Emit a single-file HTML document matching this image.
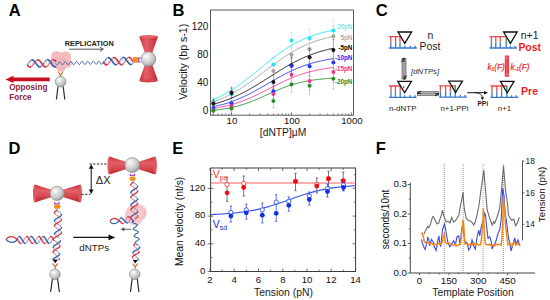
<!DOCTYPE html>
<html><head><meta charset="utf-8"><style>
html,body{margin:0;padding:0;background:#fff;width:550px;height:300px;overflow:hidden;}
svg{display:block;}
text{font-family:"Liberation Sans",sans-serif;}
</style></head><body>
<svg width="550" height="300" viewBox="0 0 550 300">
<rect width="550" height="300" fill="#fff"/>
<defs>
<radialGradient id="bead" cx="0.36" cy="0.32" r="0.75">
<stop offset="0" stop-color="#ffffff"/><stop offset="0.25" stop-color="#e6e6e6"/><stop offset="0.7" stop-color="#c4c4c4"/><stop offset="1" stop-color="#909090"/></radialGradient>
<linearGradient id="coneV" x1="0" y1="0" x2="1" y2="0">
<stop offset="0" stop-color="#c42c36"/><stop offset="0.35" stop-color="#e66068"/><stop offset="0.7" stop-color="#d4444c"/><stop offset="1" stop-color="#b8242e"/></linearGradient>
<linearGradient id="coneH" x1="0" y1="0" x2="0" y2="1">
<stop offset="0" stop-color="#c42c36"/><stop offset="0.35" stop-color="#e66068"/><stop offset="0.7" stop-color="#d4444c"/><stop offset="1" stop-color="#b8242e"/></linearGradient>
</defs>
<text x="8.7" y="16.2" font-size="16.5" font-weight="bold" fill="#000">A</text>
<text x="172.4" y="16.4" font-size="16.5" font-weight="bold" fill="#000">B</text>
<text x="375.7" y="15.9" font-size="16.5" font-weight="bold" fill="#000">C</text>
<text x="8.6" y="154.4" font-size="16.5" font-weight="bold" fill="#000">D</text>
<text x="172.3" y="154.4" font-size="16.5" font-weight="bold" fill="#000">E</text>
<text x="375.7" y="154.4" font-size="16.5" font-weight="bold" fill="#000">F</text>
<g fill="#f5bcc0"><circle cx="56.5" cy="56.5" r="5.5"/><circle cx="65.5" cy="56.8" r="5.6"/><circle cx="67.5" cy="63" r="4.6"/><circle cx="61" cy="66" r="5.6"/><circle cx="54.5" cy="63" r="4.8"/><ellipse cx="61" cy="61" rx="8" ry="7"/></g>
<path d="M60,52 C63,55 64,59 63,63 M56,61 C59,59 64,59 69,60.5 M55,66 C58,69.5 63,70 67,66" stroke="#eba2a8" stroke-width="0.7" fill="none" opacity="0.7"/>
<polyline points="55.5,63.3 55.8,63.9 56.2,64.4 56.5,64.7 56.9,64.9 57.2,64.8 57.5,64.5 57.9,64.1 58.2,63.5 58.5,62.9 58.8,62.3 59.2,61.9 59.5,61.7 59.8,61.7 60.2,61.9 60.5,62.3 60.8,62.8 61.2,63.4 61.5,63.9 61.9,64.4 62.2,64.7 62.5,64.8 62.9,64.7 63.2,64.3 63.5,63.8 63.9,63.2 64.2,62.7 64.5,62.1 64.8,61.8 65.2,61.6 65.5,61.6 65.9,61.9 66.2,62.3 66.5,62.9 66.9,63.4 67.2,64.0 67.6,64.4 67.9,64.7 68.2,64.7 68.6,64.5 68.9,64.1 69.2,63.6 69.5,63.0 69.9,62.4 70.2,61.9 70.5,61.6 70.9,61.5 71.2,61.6 71.5,61.9 71.9,62.4 72.2,62.9 72.6,63.5 72.9,64.0 73.2,64.4 73.6,64.6 73.9,64.6 74.3,64.4 74.6,63.9 74.9,63.4 75.2,62.8 75.6,62.2 75.9,61.7 76.2,61.5 76.5,61.4 76.9,61.6 77.2,61.9 77.6,62.4 77.9,63.0 78.3,63.6 78.6,64.1 78.9,64.4 79.3,64.6 79.6,64.5 79.9,64.2 80.3,63.7 80.6,63.1 80.9,62.5 81.2,62.0 81.6,61.6 81.9,61.3 82.2,61.3 82.6,61.6 82.9,61.9 83.3,62.5 83.6,63.1 83.9,63.6 84.3,64.1 84.6,64.4 85.0,64.5 85.3,64.3 85.6,64.0 85.9,63.5 86.3,62.9 86.6,62.3 86.9,61.8 87.3,61.4 87.6,61.2 87.9,61.3 88.3,61.6 88.6,62.0 88.9,62.6 89.3,63.1 89.6,63.7 90.0,64.1 90.3,64.4 90.6,64.4 91.0,64.2 91.3,63.8 91.6,63.3 92.0,62.7 92.3,62.1 92.6,61.6 92.9,61.3 93.3,61.2 93.6,61.3 93.9,61.6 94.3,62.1 94.6,62.6 95.0,63.2 95.3,63.7 95.7,64.1 96.0,64.3 96.3,64.3 96.7,64.0 97.0,63.6 97.3,63.0 97.6,62.4 98.0,61.9 98.3,61.4 98.6,61.1 99.0,61.1 99.3,61.2 99.6,61.6 100.0,62.1 100.3,62.7 100.7,63.3 101.0,63.8 101.3,64.1 101.7,64.2 102.0,64.1 102.3,63.8 102.7,63.4 103.0,62.8 103.3,62.2 103.7,61.6 104.0,61.2" fill="none" stroke="#2f5da6" stroke-width="0.95"/>
<polyline points="30.2,67.1 30.6,67.0 30.9,66.9 31.2,66.7 31.6,66.5 31.9,66.2 32.2,65.9 32.6,65.5 32.9,65.0 33.2,64.6 33.6,64.1 33.9,63.6 34.2,63.1 34.6,62.6 34.9,62.2 35.2,61.7 35.6,61.3 35.9,60.9 36.2,60.6 36.6,60.3 36.9,60.1 37.2,59.9 37.6,59.9 37.9,59.8" fill="none" stroke="#d8333c" stroke-width="1.08" stroke-linecap="round" opacity="0.85"/>
<polyline points="45.7,67.0 46.1,66.9 46.4,66.8 46.7,66.6 47.1,66.4 47.4,66.1 47.7,65.8 48.1,65.4 48.4,64.9 48.7,64.5 49.1,64.0 49.4,63.5 49.7,63.0 50.1,62.5 50.4,62.1 50.7,61.6 51.1,61.2 51.4,60.8 51.7,60.5 52.1,60.2 52.4,60.0 52.7,59.8 53.1,59.7 53.4,59.7" fill="none" stroke="#d8333c" stroke-width="1.08" stroke-linecap="round" opacity="0.85"/>
<polyline points="27.5,64.5 27.8,64.0 28.2,63.5 28.5,63.0 28.8,62.6 29.2,62.1 29.5,61.7 29.8,61.2 30.2,60.9 30.5,60.6 30.8,60.3 31.2,60.1 31.5,60.0 31.9,59.9 32.2,59.9" fill="none" stroke="#2c5fb0" stroke-width="1.08" stroke-linecap="round" opacity="0.85"/>
<polyline points="40.0,67.0 40.3,66.9 40.7,66.8 41.0,66.6 41.3,66.4 41.7,66.1 42.0,65.7 42.3,65.3 42.7,64.9 43.0,64.4 43.3,63.9 43.7,63.4 44.0,62.9 44.3,62.5 44.7,62.0 45.0,61.5 45.3,61.1 45.7,60.8 46.0,60.5 46.3,60.2 46.7,60.0 47.0,59.8 47.4,59.8 47.7,59.8" fill="none" stroke="#2c5fb0" stroke-width="1.08" stroke-linecap="round" opacity="0.85"/>
<polyline points="55.5,66.9 55.8,66.8" fill="none" stroke="#2c5fb0" stroke-width="1.08" stroke-linecap="round" opacity="0.85"/>
<path d="M28.5,66.3 L28.5,63.1 M30.5,67.0 L30.5,60.6 M32.5,65.5 L32.5,59.9 M34.5,62.7 L34.5,61.4 M36.5,60.4 L36.5,64.2 M38.5,59.9 L38.5,66.5 M40.5,61.6 L40.5,66.9 M42.5,64.4 L42.5,65.1 M44.5,66.6 L44.5,62.2 M46.5,66.7 L46.5,60.1 M48.5,64.8 L48.5,60.0 M50.5,61.9 L50.5,62.0 M52.5,60.0 L52.5,64.8 M54.5,60.1 L54.5,66.7" stroke="#d4c6d8" stroke-width="0.6"/>
<polyline points="27.5,65.2 27.9,65.6 28.2,66.0 28.5,66.3 28.9,66.6 29.2,66.8 29.5,67.0 29.9,67.1 30.2,67.1" fill="none" stroke="#d8333c" stroke-width="1.55" stroke-linecap="round"/>
<polyline points="37.9,59.8 38.3,59.9 38.6,60.0 38.9,60.1 39.3,60.4 39.6,60.7 39.9,61.0 40.3,61.4 40.6,61.8 41.0,62.3 41.3,62.7 41.6,63.2 42.0,63.7 42.3,64.2 42.7,64.7 43.0,65.1 43.3,65.5 43.7,65.9 44.0,66.2 44.4,66.5 44.7,66.7 45.0,66.9 45.4,66.9 45.7,67.0" fill="none" stroke="#d8333c" stroke-width="1.55" stroke-linecap="round"/>
<polyline points="53.4,59.7 53.8,59.8 54.1,59.9 54.4,60.0 54.8,60.3 55.1,60.6 55.4,60.9 55.8,61.3" fill="none" stroke="#d8333c" stroke-width="1.55" stroke-linecap="round"/>
<polyline points="32.2,59.9 32.5,59.9 32.9,60.1 33.2,60.2 33.5,60.5 33.9,60.8 34.2,61.1 34.6,61.5 34.9,62.0 35.2,62.4 35.6,62.9 35.9,63.4 36.3,63.9 36.6,64.4 36.9,64.8 37.3,65.3 37.6,65.7 38.0,66.0 38.3,66.3 38.6,66.6 39.0,66.8 39.3,66.9 39.7,67.0 40.0,67.0" fill="none" stroke="#2c5fb0" stroke-width="1.55" stroke-linecap="round"/>
<polyline points="47.7,59.8 48.0,59.8 48.4,59.9 48.7,60.1 49.0,60.4 49.4,60.7 49.7,61.0 50.1,61.4 50.4,61.9 50.7,62.3 51.1,62.8 51.4,63.3 51.8,63.8 52.1,64.3 52.4,64.7 52.8,65.2 53.1,65.6 53.5,65.9 53.8,66.2 54.1,66.5 54.5,66.7 54.8,66.8 55.2,66.9 55.5,66.9" fill="none" stroke="#2c5fb0" stroke-width="1.55" stroke-linecap="round"/>
<polyline points="106.9,64.8 107.2,64.7 107.6,64.5 107.9,64.3 108.2,64.0 108.6,63.6 108.9,63.2 109.2,62.8 109.5,62.3 109.9,61.8 110.2,61.3 110.5,60.8 110.9,60.3 111.2,59.8 111.5,59.4 111.9,59.0 112.2,58.6 112.5,58.2 112.8,58.0 113.2,57.8 113.5,57.6 113.8,57.6 114.2,57.6" fill="none" stroke="#d8333c" stroke-width="1.08" stroke-linecap="round" opacity="0.85"/>
<polyline points="121.7,64.7 122.0,64.6 122.3,64.5 122.7,64.3 123.0,64.0 123.3,63.7 123.6,63.3 124.0,62.9 124.3,62.5 124.6,62.0 125.0,61.5 125.3,61.0 125.6,60.5 125.9,60.0 126.3,59.5 126.6,59.1 126.9,58.6 127.3,58.3 127.6,58.0 127.9,57.7 128.3,57.5 128.6,57.4 128.9,57.4 129.3,57.4" fill="none" stroke="#d8333c" stroke-width="1.08" stroke-linecap="round" opacity="0.85"/>
<polyline points="103.5,63.0 103.9,62.5 104.2,62.0 104.5,61.5 104.8,61.0 105.2,60.5 105.5,60.0 105.8,59.5 106.2,59.1 106.5,58.7 106.8,58.4 107.1,58.1 107.5,57.9 107.8,57.7 108.1,57.7 108.5,57.6" fill="none" stroke="#2c5fb0" stroke-width="1.08" stroke-linecap="round" opacity="0.85"/>
<polyline points="116.3,64.7 116.6,64.6 117.0,64.4 117.3,64.2 117.6,63.9 117.9,63.5 118.3,63.1 118.6,62.7 118.9,62.2 119.3,61.7 119.6,61.2 119.9,60.7 120.2,60.2 120.6,59.7 120.9,59.2 121.2,58.8 121.6,58.4 121.9,58.1 122.2,57.8 122.6,57.6 122.9,57.5 123.2,57.4 123.6,57.4" fill="none" stroke="#2c5fb0" stroke-width="1.08" stroke-linecap="round" opacity="0.85"/>
<polyline points="131.0,64.5 131.4,64.5 131.7,64.3 132.0,64.1 132.4,63.9 132.7,63.6 133.0,63.2" fill="none" stroke="#2c5fb0" stroke-width="1.08" stroke-linecap="round" opacity="0.85"/>
<path d="M104.5,63.7 L104.5,61.5 M106.5,64.9 L106.5,58.8 M108.5,63.7 L108.5,57.6 M110.5,60.9 L110.5,58.9 M112.5,58.3 L112.5,61.7 M114.5,57.6 L114.5,64.1 M116.5,59.3 L116.5,64.6 M118.5,62.2 L118.5,62.8 M120.5,64.3 L120.5,59.8 M122.5,64.4 L122.5,57.7 M124.5,62.2 L124.5,57.8 M126.5,59.2 L126.5,60.0 M128.5,57.5 L128.5,62.9 M130.5,58.0 L130.5,64.5 M132.5,60.5 L132.5,63.7" stroke="#d4c6d8" stroke-width="0.6"/>
<polyline points="103.5,62.4 103.9,62.8 104.2,63.3 104.5,63.7 104.9,64.0 105.2,64.3 105.6,64.5 105.9,64.7 106.2,64.8 106.6,64.9 106.9,64.8" fill="none" stroke="#d8333c" stroke-width="1.55" stroke-linecap="round"/>
<polyline points="114.2,57.6 114.5,57.6 114.9,57.8 115.2,58.0 115.5,58.3 115.9,58.6 116.2,59.0 116.6,59.4 116.9,59.8 117.2,60.3 117.6,60.8 117.9,61.3 118.3,61.8 118.6,62.3 118.9,62.7 119.3,63.2 119.6,63.6 120.0,63.9 120.3,64.2 120.6,64.4 121.0,64.6 121.3,64.6 121.7,64.7" fill="none" stroke="#d8333c" stroke-width="1.55" stroke-linecap="round"/>
<polyline points="129.3,57.4 129.6,57.5 129.9,57.6 130.3,57.8 130.6,58.1 131.0,58.5 131.3,58.9 131.6,59.3 132.0,59.7 132.3,60.2 132.7,60.7 133.0,61.2" fill="none" stroke="#d8333c" stroke-width="1.55" stroke-linecap="round"/>
<polyline points="108.5,57.6 108.8,57.7 109.2,57.8 109.5,58.0 109.8,58.3 110.2,58.6 110.5,58.9 110.9,59.4 111.2,59.8 111.5,60.3 111.9,60.8 112.2,61.3 112.6,61.8 112.9,62.3 113.2,62.7 113.6,63.2 113.9,63.5 114.3,63.9 114.6,64.2 114.9,64.4 115.3,64.6 115.6,64.7 116.0,64.7 116.3,64.7" fill="none" stroke="#2c5fb0" stroke-width="1.55" stroke-linecap="round"/>
<polyline points="123.6,57.4 123.9,57.5 124.2,57.7 124.6,57.9 124.9,58.1 125.3,58.5 125.6,58.8 125.9,59.3 126.3,59.7 126.6,60.2 127.0,60.7 127.3,61.2 127.6,61.7 128.0,62.2 128.3,62.6 128.7,63.1 129.0,63.4 129.4,63.8 129.7,64.1 130.0,64.3 130.4,64.4 130.7,64.5 131.0,64.5" fill="none" stroke="#2c5fb0" stroke-width="1.55" stroke-linecap="round"/>
<path d="M58.2,71.5 L60.5,75.3 L63,71.5 M60.5,75 L60.5,77" stroke="#c07a3a" stroke-width="1.3" fill="none"/>
<circle cx="60.6" cy="81.6" r="5.3" fill="url(#bead)" stroke="#8a8a8a" stroke-width="0.7"/>
<path d="M58.0,86.5 L56.4,99.5 M63.2,86.5 L64.8,99.5" stroke="#2a2a2a" stroke-width="1.2" fill="none"/>
<path d="M49.7,77.6 L13.4,77.6 L13.4,75.7 L5.4,79.4 L13.4,83.1 L13.4,81.2 L49.7,81.2 Z" fill="#c8101e"/>
<text x="9.2" y="90.4" font-size="8.2" font-weight="bold" fill="#8c1c3c">Opposing</text>
<text x="9.2" y="99.7" font-size="8.2" font-weight="bold" fill="#8c1c3c">Force</text>
<text x="64.8" y="46" font-size="7.3" font-weight="bold" fill="#1a1a1a">REPLICATION</text>
<path d="M69.2,49.2 L103,49.2 M100,47.3 L103.3,49.2 L100,51.1" stroke="#444" stroke-width="0.9" fill="none"/>
<path d="M133.1,57 L138.5,57 L138.5,62.7 L133.1,62.7 Z" fill="#f0901e"/>
<path d="M140.8,58.2 L138.8,58.2 L138.8,62 L140.8,62" stroke="#a848c8" stroke-width="1.2" fill="none"/>
<path d="M139.2,36.6 L147.0,58.7 L139.2,80.8 L158.0,80.8 L150.2,58.7 L158.0,36.6 Z" fill="url(#coneV)"/>
<ellipse cx="148.6" cy="36.6" rx="9.4" ry="1.6" fill="#e8646c"/>
<ellipse cx="148.6" cy="80.8" rx="9.4" ry="1.6" fill="#d44850"/>
<circle cx="148.5" cy="59" r="7.3" fill="url(#bead)" stroke="#8a8a8a" stroke-width="0.7"/>
<path d="M34.7,184.4 L57.1,191.6 L80.3,184.4 L80.3,202.4 L57.1,195.20000000000002 L34.7,202.4 Z" fill="url(#coneH)"/>
<ellipse cx="34.7" cy="193.4" rx="1.7" ry="9.0" fill="#e0585f"/>
<ellipse cx="80.3" cy="193.4" rx="1.7" ry="9.0" fill="#e0585f"/>
<circle cx="57.1" cy="193.4" r="7.1" fill="url(#bead)" stroke="#8a8a8a" stroke-width="0.7"/>
<path d="M54.5,201.8 L54.8,203.8 L59,203.8 L59.3,201.8" stroke="#a848c8" stroke-width="1.2" fill="none"/>
<path d="M55,204.5 L59.5,204.5 L60.8,206.6 L59.5,208.7 L55,208.7 L53.8,206.6 Z" fill="#f0901e"/>
<polyline points="54.5,213.0 54.6,213.3 54.8,213.7 55.0,214.0 55.4,214.3 55.8,214.7 56.2,215.0 56.8,215.3 57.3,215.7 57.9,216.0 58.4,216.3 59.0,216.7 59.5,217.0 60.0,217.3 60.4,217.7 60.8,218.0 61.1,218.3 61.3,218.7 61.5,219.0 61.5,219.3 61.5,219.7" fill="none" stroke="#d8333c" stroke-width="0.92" stroke-linecap="round" opacity="0.85"/>
<polyline points="54.5,226.0 54.6,226.3 54.8,226.7 55.0,227.0 55.4,227.3 55.8,227.7 56.2,228.0 56.8,228.3 57.3,228.7 57.9,229.0 58.4,229.3 59.0,229.7 59.5,230.0 60.0,230.3 60.4,230.7 60.8,231.0 61.1,231.3 61.3,231.7 61.5,232.0 61.5,232.3 61.5,232.7" fill="none" stroke="#d8333c" stroke-width="0.92" stroke-linecap="round" opacity="0.85"/>
<polyline points="56.1,210.0 56.6,210.3 57.1,210.7 57.6,211.0 58.2,211.3 58.8,211.7 59.3,212.0 59.8,212.3 60.3,212.7 60.7,213.0 61.0,213.3 61.2,213.7 61.4,214.0 61.5,214.3 61.5,214.7" fill="none" stroke="#2c5fb0" stroke-width="0.92" stroke-linecap="round" opacity="0.85"/>
<polyline points="54.5,221.0 54.6,221.3 54.7,221.7 54.9,222.0 55.2,222.3 55.6,222.7 56.1,223.0 56.6,223.3 57.1,223.7 57.6,224.0 58.2,224.3 58.8,224.7 59.3,225.0 59.8,225.3 60.3,225.7 60.7,226.0 61.0,226.3 61.2,226.7 61.4,227.0 61.5,227.3 61.5,227.7" fill="none" stroke="#2c5fb0" stroke-width="0.92" stroke-linecap="round" opacity="0.85"/>
<polyline points="54.5,234.0 54.6,234.3 54.7,234.7 54.9,235.0 55.2,235.3 55.6,235.7 56.1,236.0 56.6,236.3 57.1,236.7 57.6,237.0 58.2,237.3 58.8,237.7 59.3,238.0" fill="none" stroke="#2c5fb0" stroke-width="0.92" stroke-linecap="round" opacity="0.85"/>
<path d="M55.8,211.0 L57.6,211.0 M54.5,213.0 L60.7,213.0 M56.2,215.0 L61.4,215.0 M59.5,217.0 L59.2,217.0 M61.5,219.0 L56.0,219.0 M60.4,221.0 L54.5,221.0 M57.3,223.0 L56.1,223.0 M54.8,225.0 L59.3,225.0 M55.0,227.0 L61.4,227.0 M57.9,229.0 L60.6,229.0 M60.8,231.0 L57.5,231.0 M61.3,233.0 L54.9,233.0 M59.0,235.0 L54.9,235.0 M55.8,237.0 L57.6,237.0" stroke="#d4c6d8" stroke-width="0.6"/>
<polyline points="57.3,210.0 56.8,210.3 56.3,210.7 55.8,211.0 55.4,211.3 55.0,211.7 54.8,212.0 54.6,212.3 54.5,212.7 54.5,213.0" fill="none" stroke="#d8333c" stroke-width="1.32" stroke-linecap="round"/>
<polyline points="61.5,219.7 61.3,220.0 61.1,220.3 60.8,220.7 60.4,221.0 60.0,221.3 59.5,221.7 59.0,222.0 58.4,222.3 57.9,222.7 57.3,223.0 56.8,223.3 56.3,223.7 55.8,224.0 55.4,224.3 55.0,224.7 54.8,225.0 54.6,225.3 54.5,225.7 54.5,226.0" fill="none" stroke="#d8333c" stroke-width="1.32" stroke-linecap="round"/>
<polyline points="61.5,232.7 61.3,233.0 61.1,233.3 60.8,233.7 60.4,234.0 60.0,234.3 59.5,234.7 59.0,235.0 58.4,235.3 57.9,235.7 57.3,236.0 56.8,236.3 56.3,236.7 55.8,237.0 55.4,237.3 55.0,237.7 54.8,238.0" fill="none" stroke="#d8333c" stroke-width="1.32" stroke-linecap="round"/>
<polyline points="61.5,214.7 61.4,215.0 61.2,215.3 60.9,215.7 60.6,216.0 60.2,216.3 59.7,216.7 59.2,217.0 58.6,217.3 58.1,217.7 57.5,218.0 57.0,218.3 56.4,218.7 56.0,219.0 55.5,219.3 55.2,219.7 54.9,220.0 54.7,220.3 54.5,220.7 54.5,221.0" fill="none" stroke="#2c5fb0" stroke-width="1.32" stroke-linecap="round"/>
<polyline points="61.5,227.7 61.4,228.0 61.2,228.3 60.9,228.7 60.6,229.0 60.2,229.3 59.7,229.7 59.2,230.0 58.6,230.3 58.1,230.7 57.5,231.0 57.0,231.3 56.4,231.7 56.0,232.0 55.5,232.3 55.2,232.7 54.9,233.0 54.7,233.3 54.5,233.7 54.5,234.0" fill="none" stroke="#2c5fb0" stroke-width="1.32" stroke-linecap="round"/>
<polyline points="54.3,240.4 54.7,240.7 55.1,241.1 55.5,241.4 56.0,241.8 56.5,242.1 57.0,242.5 57.5,242.9 58.0,243.2 58.5,243.6 58.9,243.9 59.2,244.3 59.6,244.6 59.8,245.0 59.9,245.3 60.0,245.7 60.0,246.0" fill="none" stroke="#d8333c" stroke-width="0.92" stroke-linecap="round" opacity="0.85"/>
<polyline points="53.1,252.3 53.2,252.7 53.4,253.0 53.7,253.4 54.0,253.7 54.4,254.1 54.8,254.4 55.3,254.8 55.8,255.1 56.3,255.5 56.8,255.9 57.3,256.2 57.8,256.6 58.2,256.9 58.6,257.3 58.9,257.6 59.1,258.0 59.3,258.3 59.3,258.7 59.3,259.0" fill="none" stroke="#d8333c" stroke-width="0.92" stroke-linecap="round" opacity="0.85"/>
<polyline points="60.3,240.7 60.3,241.0" fill="none" stroke="#2c5fb0" stroke-width="0.92" stroke-linecap="round" opacity="0.85"/>
<polyline points="53.3,247.3 53.4,247.7 53.6,248.0 53.8,248.4 54.1,248.7 54.5,249.1 54.9,249.4 55.4,249.8 55.9,250.1 56.4,250.5 56.9,250.9 57.4,251.2 57.9,251.6 58.3,251.9 58.7,252.3 59.0,252.6 59.3,253.0 59.5,253.3 59.6,253.7 59.6,254.0" fill="none" stroke="#2c5fb0" stroke-width="0.92" stroke-linecap="round" opacity="0.85"/>
<path d="M55.5,241.4 L60.1,241.7 M58.4,243.6 L57.7,243.5 M60.0,245.7 L54.6,245.4 M58.8,247.6 L53.3,247.3 M55.7,249.4 L54.9,249.4 M53.3,251.3 L57.8,251.6 M53.7,253.3 L59.6,253.7 M56.3,255.5 L58.5,255.6 M58.9,257.6 L55.4,257.4" stroke="#d4c6d8" stroke-width="0.6"/>
<polyline points="60.0,246.0 59.9,246.3 59.7,246.7 59.5,247.0 59.1,247.3 58.7,247.6 58.3,247.9 57.8,248.2 57.3,248.5 56.7,248.8 56.2,249.1 55.6,249.5 55.1,249.8 54.6,250.1 54.2,250.4 53.8,250.7 53.5,251.0 53.3,251.3 53.2,251.7 53.1,252.0 53.1,252.3" fill="none" stroke="#d8333c" stroke-width="1.32" stroke-linecap="round"/>
<polyline points="59.3,259.0 59.2,259.3 59.0,259.7" fill="none" stroke="#d8333c" stroke-width="1.32" stroke-linecap="round"/>
<polyline points="60.3,241.0 60.2,241.3 60.1,241.7 59.8,242.0 59.5,242.3 59.2,242.6 58.7,242.9 58.3,243.2 57.7,243.5 57.2,243.9 56.7,244.2 56.1,244.5 55.6,244.8 55.1,245.1 54.6,245.4 54.2,245.7 53.9,246.0 53.6,246.3 53.5,246.7 53.4,247.0 53.3,247.3" fill="none" stroke="#2c5fb0" stroke-width="1.32" stroke-linecap="round"/>
<polyline points="59.6,254.0 59.5,254.3 59.4,254.7 59.1,255.0 58.8,255.3 58.5,255.6 58.0,255.9 57.5,256.2 57.0,256.5 56.5,256.9 55.9,257.2 55.4,257.5 54.9,257.8 54.4,258.1 53.9,258.4 53.5,258.7 53.2,259.0 52.9,259.3" fill="none" stroke="#2c5fb0" stroke-width="1.32" stroke-linecap="round"/>
<polyline points="50.7,236.5 50.3,236.6 50.0,236.8 49.7,237.0 49.3,237.4 49.0,237.9 48.7,238.4 48.3,238.9 48.0,239.5 47.7,240.2 47.3,240.8 47.0,241.3 46.7,241.9 46.3,242.4 46.0,242.8 45.7,243.1 45.3,243.3 45.0,243.5 44.7,243.5" fill="none" stroke="#d8333c" stroke-width="0.92" stroke-linecap="round" opacity="0.85"/>
<polyline points="38.7,236.5 38.3,236.6 38.0,236.8 37.7,237.0 37.3,237.4 37.0,237.9 36.7,238.4 36.3,238.9 36.0,239.5 35.7,240.2 35.3,240.8 35.0,241.3 34.7,241.9 34.3,242.4 34.0,242.8 33.7,243.1 33.3,243.3 33.0,243.5 32.7,243.5" fill="none" stroke="#d8333c" stroke-width="0.92" stroke-linecap="round" opacity="0.85"/>
<polyline points="26.7,236.5 26.3,236.6 26.0,236.8 25.7,237.0 25.3,237.4 25.0,237.9 24.7,238.4 24.3,238.9 24.0,239.5 23.7,240.2 23.3,240.8 23.0,241.3 22.7,241.9 22.3,242.4 22.0,242.8 21.7,243.1 21.3,243.3 21.0,243.5 20.7,243.5" fill="none" stroke="#d8333c" stroke-width="0.92" stroke-linecap="round" opacity="0.85"/>
<polyline points="54.0,237.2 53.7,237.6 53.3,238.1 53.0,238.7 52.7,239.2 52.3,239.8 52.0,240.5 51.7,241.1 51.3,241.6 51.0,242.1 50.7,242.6 50.3,243.0 50.0,243.2 49.7,243.4 49.3,243.5 49.0,243.5" fill="none" stroke="#2c5fb0" stroke-width="0.92" stroke-linecap="round" opacity="0.85"/>
<polyline points="43.0,236.5 42.7,236.7 42.3,236.9 42.0,237.2 41.7,237.6 41.3,238.1 41.0,238.7 40.7,239.2 40.3,239.8 40.0,240.5 39.7,241.1 39.3,241.6 39.0,242.1 38.7,242.6 38.3,243.0 38.0,243.2 37.7,243.4 37.3,243.5 37.0,243.5" fill="none" stroke="#2c5fb0" stroke-width="0.92" stroke-linecap="round" opacity="0.85"/>
<polyline points="31.0,236.5 30.7,236.7 30.3,236.9 30.0,237.2 29.7,237.6 29.3,238.1 29.0,238.7 28.7,239.2 28.3,239.8 28.0,240.5 27.7,241.1 27.3,241.6 27.0,242.1 26.7,242.6 26.3,243.0 26.0,243.2 25.7,243.4 25.3,243.5 25.0,243.5" fill="none" stroke="#2c5fb0" stroke-width="0.92" stroke-linecap="round" opacity="0.85"/>
<polyline points="19.0,236.5 18.7,236.7 18.3,236.9 18.0,237.2 17.7,237.6 17.3,238.1 17.0,238.7" fill="none" stroke="#2c5fb0" stroke-width="0.92" stroke-linecap="round" opacity="0.85"/>
<path d="M53.0,238.7 L53.0,238.7 M51.0,236.5 L51.0,242.1 M49.0,237.9 L49.0,243.5 M47.0,241.3 L47.0,241.3 M45.0,243.5 L45.0,237.9 M43.0,242.1 L43.0,236.5 M41.0,238.7 L41.0,238.7 M39.0,236.5 L39.0,242.1 M37.0,237.9 L37.0,243.5 M35.0,241.3 L35.0,241.3 M33.0,243.5 L33.0,237.9 M31.0,242.1 L31.0,236.5 M29.0,238.7 L29.0,238.7 M27.0,236.5 L27.0,242.1 M25.0,237.9 L25.0,243.5 M23.0,241.3 L23.0,241.3 M21.0,243.5 L21.0,237.9 M19.0,242.1 L19.0,236.5" stroke="#d4c6d8" stroke-width="0.6"/>
<polyline points="54.0,240.5 53.7,239.8 53.3,239.2 53.0,238.7 52.7,238.1 52.3,237.6 52.0,237.2 51.7,236.9 51.3,236.7 51.0,236.5 50.7,236.5" fill="none" stroke="#d8333c" stroke-width="1.32" stroke-linecap="round"/>
<polyline points="44.7,243.5 44.3,243.4 44.0,243.2 43.7,243.0 43.3,242.6 43.0,242.1 42.7,241.6 42.3,241.1 42.0,240.5 41.7,239.8 41.3,239.2 41.0,238.7 40.7,238.1 40.3,237.6 40.0,237.2 39.7,236.9 39.3,236.7 39.0,236.5 38.7,236.5" fill="none" stroke="#d8333c" stroke-width="1.32" stroke-linecap="round"/>
<polyline points="32.7,243.5 32.3,243.4 32.0,243.2 31.7,243.0 31.3,242.6 31.0,242.1 30.7,241.6 30.3,241.1 30.0,240.5 29.7,239.8 29.3,239.2 29.0,238.7 28.7,238.1 28.3,237.6 28.0,237.2 27.7,236.9 27.3,236.7 27.0,236.5 26.7,236.5" fill="none" stroke="#d8333c" stroke-width="1.32" stroke-linecap="round"/>
<polyline points="20.7,243.5 20.3,243.4 20.0,243.2 19.7,243.0 19.3,242.6 19.0,242.1 18.7,241.6 18.3,241.1 18.0,240.5 17.7,239.8 17.3,239.2 17.0,238.7" fill="none" stroke="#d8333c" stroke-width="1.32" stroke-linecap="round"/>
<polyline points="49.0,243.5 48.7,243.3 48.3,243.1 48.0,242.8 47.7,242.4 47.3,241.9 47.0,241.3 46.7,240.8 46.3,240.2 46.0,239.5 45.7,238.9 45.3,238.4 45.0,237.9 44.7,237.4 44.3,237.0 44.0,236.8 43.7,236.6 43.3,236.5 43.0,236.5" fill="none" stroke="#2c5fb0" stroke-width="1.32" stroke-linecap="round"/>
<polyline points="37.0,243.5 36.7,243.3 36.3,243.1 36.0,242.8 35.7,242.4 35.3,241.9 35.0,241.3 34.7,240.8 34.3,240.2 34.0,239.5 33.7,238.9 33.3,238.4 33.0,237.9 32.7,237.4 32.3,237.0 32.0,236.8 31.7,236.6 31.3,236.5 31.0,236.5" fill="none" stroke="#2c5fb0" stroke-width="1.32" stroke-linecap="round"/>
<polyline points="25.0,243.5 24.7,243.3 24.3,243.1 24.0,242.8 23.7,242.4 23.3,241.9 23.0,241.3 22.7,240.8 22.3,240.2 22.0,239.5 21.7,238.9 21.3,238.4 21.0,237.9 20.7,237.4 20.3,237.0 20.0,236.8 19.7,236.6 19.3,236.5 19.0,236.5" fill="none" stroke="#2c5fb0" stroke-width="1.32" stroke-linecap="round"/>
<path d="M17,240 C14,235 8,236 6,239.6" stroke="#d8333c" stroke-width="1.3" fill="none"/>
<path d="M17,240 C14,243.5 9,243 6,239.6" stroke="#2c5fb0" stroke-width="1.2" fill="none"/>
<path d="M52.5,259.5 L55.2,263.3 L57.9,259.5 Z" fill="#111"/>
<path d="M52.6,263.5 L55.2,266.8 L57.8,263.5 M55.2,266.5 L55.2,268.8" stroke="#c07a3a" stroke-width="1.3" fill="none"/>
<circle cx="55" cy="274.2" r="5.2" fill="url(#bead)" stroke="#8a8a8a" stroke-width="0.7"/>
<path d="M52.4,279 L50.6,292 M57.6,279 L59.4,292" stroke="#2a2a2a" stroke-width="1.2" fill="none"/>
<path d="M81.5,194.3 L90.5,194.3 M89.5,164 L109,164" stroke="#222" stroke-width="1" stroke-dasharray="2.2,1.5" fill="none"/>
<path d="M91.2,166 L91.2,192" stroke="#111" stroke-width="1"/><path d="M88.8,168.8 L91.2,164.3 L93.6,168.8 Z M88.8,189.6 L91.2,194 L93.6,189.6 Z" fill="#111"/>
<text x="95.8" y="184.3" font-size="11" fill="#1a1a1a">ΔX</text>
<path d="M109.2,156.5 L132.3,163.7 L155.2,156.5 L155.2,174.5 L132.3,167.3 L109.2,174.5 Z" fill="url(#coneH)"/>
<ellipse cx="109.2" cy="165.5" rx="1.7" ry="9.0" fill="#e0585f"/>
<ellipse cx="155.2" cy="165.5" rx="1.7" ry="9.0" fill="#e0585f"/>
<circle cx="132.3" cy="165" r="7.4" fill="url(#bead)" stroke="#8a8a8a" stroke-width="0.7"/>
<path d="M130,173.6 L130.3,175.4 L134.5,175.4 L134.8,173.6" stroke="#a848c8" stroke-width="1.2" fill="none"/>
<path d="M130.5,176.5 L134.8,176.5 L136,178.7 L134.8,180.8 L130.5,180.8 L129.3,178.7 Z" fill="#f0901e"/>
<path d="M127,210 C128,206 133,204.5 137,205.5 C140,204 145,206 146,210.5 C147,215 145,219 142,220 C141,223.5 137,225.5 133,224.5 C129,224 126,221 125.5,217 C125,214 126,212 127,210 Z" fill="#f7c6ca" stroke="#efb0b6" stroke-width="0.6" opacity="0.92"/>
<path d="M136,208 C140,206 145,208 145,213 C145,217 141,219 138,218" stroke="#eea4aa" stroke-width="0.8" fill="none" opacity="0.8"/>
<polyline points="130.9,185.0 131.1,185.3 131.3,185.7 131.6,186.0 132.0,186.4 132.4,186.7 132.9,187.0 133.5,187.4 134.0,187.7 134.6,188.0 135.2,188.4 135.7,188.7 136.2,189.0 136.6,189.4 137.0,189.7 137.3,190.0 137.5,190.4 137.7,190.7 137.7,191.0" fill="none" stroke="#d8333c" stroke-width="0.92" stroke-linecap="round" opacity="0.85"/>
<polyline points="130.9,197.4 131.0,197.7 131.2,198.1 131.5,198.4 131.8,198.7 132.3,199.1 132.8,199.4 133.3,199.7 133.8,200.1 134.4,200.4 135.0,200.8 135.5,201.1 136.0,201.4 136.5,201.8 136.9,202.1 137.2,202.4 137.5,202.8 137.6,203.1 137.7,203.4 137.7,203.8" fill="none" stroke="#d8333c" stroke-width="0.92" stroke-linecap="round" opacity="0.85"/>
<polyline points="130.9,209.8 131.0,210.1 131.1,210.5 131.4,210.8 131.7,211.1 132.1,211.5 132.6,211.8 133.1,212.1 133.7,212.5 134.2,212.8 134.8,213.1 135.4,213.5 135.9,213.8 136.4,214.1 136.8,214.5 137.1,214.8 137.4,215.2 137.6,215.5 137.7,215.8 137.7,216.2" fill="none" stroke="#d8333c" stroke-width="0.92" stroke-linecap="round" opacity="0.85"/>
<polyline points="132.4,182.0 132.9,182.3 133.5,182.7 134.0,183.0 134.6,183.3 135.2,183.7 135.7,184.0 136.2,184.3 136.6,184.7 137.0,185.0 137.3,185.3 137.5,185.7 137.7,186.0 137.7,186.4" fill="none" stroke="#2c5fb0" stroke-width="0.92" stroke-linecap="round" opacity="0.85"/>
<polyline points="130.9,192.7 131.0,193.1 131.2,193.4 131.5,193.7 131.8,194.1 132.3,194.4 132.8,194.7 133.3,195.1 133.8,195.4 134.4,195.7 135.0,196.1 135.5,196.4 136.0,196.7 136.5,197.1 136.9,197.4 137.2,197.7 137.5,198.1 137.6,198.4 137.7,198.7 137.7,199.1" fill="none" stroke="#2c5fb0" stroke-width="0.92" stroke-linecap="round" opacity="0.85"/>
<polyline points="130.9,205.1 131.0,205.4 131.1,205.8 131.4,206.1 131.7,206.4 132.1,206.8 132.6,207.1 133.1,207.4 133.7,207.8 134.2,208.1 134.8,208.5 135.3,208.8 135.9,209.1 136.4,209.5 136.8,209.8 137.1,210.1 137.4,210.5 137.6,210.8 137.7,211.1 137.7,211.5" fill="none" stroke="#2c5fb0" stroke-width="0.92" stroke-linecap="round" opacity="0.85"/>
<polyline points="130.9,217.8 131.1,218.2 131.3,218.5" fill="none" stroke="#2c5fb0" stroke-width="0.92" stroke-linecap="round" opacity="0.85"/>
<path d="M132.1,183.0 L134.0,183.0 M130.9,185.0 L137.0,185.0 M132.9,187.0 L137.5,187.0 M136.2,189.0 L135.0,189.0 M137.7,191.0 L131.9,191.0 M136.1,193.0 L131.0,193.0 M132.8,195.0 L133.2,195.0 M130.9,197.0 L136.4,197.0 M132.2,199.0 L137.7,199.0 M135.4,201.0 L135.8,201.0 M137.6,203.0 L132.5,203.0 M136.8,205.0 L130.9,205.0 M133.6,207.0 L132.4,207.0 M131.1,209.0 L135.7,209.0 M131.6,211.0 L137.7,211.0 M134.6,213.0 L136.5,213.0 M137.3,215.0 L133.3,215.0 M137.3,217.0 L131.0,217.0" stroke="#d4c6d8" stroke-width="0.6"/>
<polyline points="133.6,182.0 133.1,182.3 132.6,182.7 132.1,183.0 131.7,183.3 131.4,183.7 131.1,184.0 131.0,184.3 130.9,184.7 130.9,185.0" fill="none" stroke="#d8333c" stroke-width="1.32" stroke-linecap="round"/>
<polyline points="137.7,191.0 137.6,191.4 137.5,191.7 137.2,192.0 136.9,192.4 136.5,192.7 136.0,193.1 135.5,193.4 134.9,193.7 134.4,194.1 133.8,194.4 133.3,194.7 132.7,195.1 132.2,195.4 131.8,195.7 131.5,196.1 131.2,196.4 131.0,196.7 130.9,197.1 130.9,197.4" fill="none" stroke="#d8333c" stroke-width="1.32" stroke-linecap="round"/>
<polyline points="137.7,203.8 137.5,204.1 137.3,204.4 137.0,204.8 136.6,205.1 136.2,205.4 135.7,205.8 135.1,206.1 134.6,206.4 134.0,206.8 133.4,207.1 132.9,207.4 132.4,207.8 132.0,208.1 131.6,208.5 131.3,208.8 131.1,209.1 130.9,209.5 130.9,209.8" fill="none" stroke="#d8333c" stroke-width="1.32" stroke-linecap="round"/>
<polyline points="137.7,216.2 137.6,216.5 137.4,216.8 137.1,217.2 136.8,217.5 136.3,217.8 135.8,218.2 135.3,218.5" fill="none" stroke="#d8333c" stroke-width="1.32" stroke-linecap="round"/>
<polyline points="137.7,186.4 137.6,186.7 137.5,187.0 137.2,187.4 136.9,187.7 136.5,188.0 136.0,188.4 135.5,188.7 134.9,189.0 134.4,189.4 133.8,189.7 133.3,190.0 132.7,190.4 132.2,190.7 131.8,191.0 131.5,191.4 131.2,191.7 131.0,192.0 130.9,192.4 130.9,192.7" fill="none" stroke="#2c5fb0" stroke-width="1.32" stroke-linecap="round"/>
<polyline points="137.7,199.1 137.5,199.4 137.3,199.7 137.0,200.1 136.6,200.4 136.2,200.8 135.7,201.1 135.1,201.4 134.6,201.8 134.0,202.1 133.4,202.4 132.9,202.8 132.4,203.1 132.0,203.4 131.6,203.8 131.3,204.1 131.1,204.4 130.9,204.8 130.9,205.1" fill="none" stroke="#2c5fb0" stroke-width="1.32" stroke-linecap="round"/>
<polyline points="137.7,211.5 137.6,211.8 137.4,212.1 137.1,212.5 136.8,212.8 136.3,213.1 135.8,213.5 135.3,213.8 134.8,214.1 134.2,214.5 133.6,214.8 133.1,215.2 132.6,215.5 132.1,215.8 131.7,216.2 131.4,216.5 131.1,216.8 131.0,217.2 130.9,217.5 130.9,217.8" fill="none" stroke="#2c5fb0" stroke-width="1.32" stroke-linecap="round"/>
<polyline points="127.9,216.8 127.6,217.0 127.3,217.3 127.0,217.6 126.7,218.0 126.4,218.5 126.2,219.0 125.9,219.6 125.7,220.2 125.4,220.7 125.2,221.3 124.9,221.8 124.6,222.3 124.4,222.7 124.1,223.1 123.8,223.3 123.5,223.5 123.1,223.6" fill="none" stroke="#d8333c" stroke-width="0.92" stroke-linecap="round" opacity="0.85"/>
<polyline points="132.5,216.0 132.2,216.2 131.9,216.4 131.6,216.7 131.3,217.0 131.1,217.5 130.8,218.0 130.5,218.5 130.3,219.1 130.0,219.6 129.8,220.2 129.5,220.8 129.3,221.3 129.0,221.7 128.7,222.1 128.4,222.5 128.1,222.7 127.8,222.8 127.5,222.9" fill="none" stroke="#2c5fb0" stroke-width="0.92" stroke-linecap="round" opacity="0.85"/>
<polyline points="120.5,217.9 120.2,218.1 119.9,218.4 119.6,218.7 119.4,219.1 119.1,219.5 118.8,220.1" fill="none" stroke="#2c5fb0" stroke-width="0.92" stroke-linecap="round" opacity="0.85"/>
<path d="M132.1,219.8 L131.6,216.7 M129.7,217.3 L130.1,219.6 M127.6,216.9 L128.5,222.4 M126.0,219.4 L126.5,222.6 M124.5,222.6 L124.1,220.3 M122.6,223.5 L121.7,218.1 M120.3,221.7 L119.8,218.5" stroke="#d4c6d8" stroke-width="0.6"/>
<polyline points="133.3,221.0 132.9,220.6 132.5,220.2 132.1,219.8 131.7,219.3 131.3,218.9 130.9,218.4 130.4,218.0 130.0,217.6 129.7,217.3 129.3,217.0 128.9,216.8 128.5,216.7 128.2,216.7 127.9,216.8" fill="none" stroke="#d8333c" stroke-width="1.32" stroke-linecap="round"/>
<polyline points="123.1,223.6 122.8,223.6 122.4,223.5 122.1,223.3 121.7,223.0 121.3,222.7 120.9,222.3 120.5,221.9 120.1,221.4 119.6,221.0 119.2,220.5 118.8,220.1" fill="none" stroke="#d8333c" stroke-width="1.32" stroke-linecap="round"/>
<polyline points="127.5,222.9 127.1,222.9 126.8,222.7 126.4,222.5 126.0,222.2 125.6,221.9 125.2,221.5 124.8,221.1 124.4,220.6 124.0,220.1 123.5,219.7 123.1,219.2 122.7,218.8 122.3,218.5 121.9,218.2 121.6,218.0 121.2,217.9 120.9,217.9 120.5,217.9" fill="none" stroke="#2c5fb0" stroke-width="1.32" stroke-linecap="round"/>
<path d="M119,221.2 C116,216.5 111,218.5 110,221.6" stroke="#d8333c" stroke-width="1.3" fill="none"/>
<path d="M119,221.2 C116,224.5 112,224.5 110,221.6" stroke="#2c5fb0" stroke-width="1.2" fill="none"/>
<polyline points="134.5,220.0 133.9,220.4 133.3,220.8 132.8,221.2 132.5,221.6 132.4,221.9 132.5,222.3 132.8,222.6 133.3,222.8 133.9,223.1 134.6,223.4 135.3,223.6 136.0,223.9 136.6,224.1 137.0,224.4 137.3,224.7 137.4,225.0 137.3,225.4 137.0,225.7 136.5,226.1 136.0,226.5 135.3,227.0 134.7,227.4 134.1,227.8 133.7,228.2 133.4,228.5 133.3,228.9 133.4,229.2 133.7,229.5 134.1,229.8 134.7,230.1 135.4,230.3 136.2,230.6 136.8,230.8 137.4,231.1 137.9,231.3 138.2,231.6 138.3,232.0 138.2,232.3 137.9,232.7 137.4,233.1 136.8,233.5 136.2,233.9 135.6,234.3 135.0,234.7 134.5,235.1 134.2,235.5 134.1,235.8 134.2,236.2 134.5,236.5 135.0,236.7 135.6,237.0 136.3,237.3 137.0,237.5 137.7,237.8 138.3,238.0 138.8,238.3 139.0,238.6 139.1,238.9 139.0,239.3 138.7,239.6 138.2,240.0 137.7,240.4 137.0,240.9 136.4,241.3 135.8,241.7 135.4,242.1 135.1,242.4 135.0,242.8 135.1,243.1 135.4,243.4 135.8,243.7 136.5,244.0 137.2,244.2 137.9,244.5" fill="none" stroke="#2f5da6" stroke-width="1.05"/>
<polyline points="133.9,245.5 134.0,245.8 134.1,246.2 134.4,246.6 134.7,246.9 135.1,247.3 135.5,247.7 135.9,248.1 136.4,248.5 136.9,248.9 137.4,249.3 137.8,249.7 138.2,250.1 138.6,250.4 138.8,250.8 139.0,251.2 139.1,251.5 139.1,251.9 139.1,252.2" fill="none" stroke="#d8333c" stroke-width="0.92" stroke-linecap="round" opacity="0.85"/>
<polyline points="132.5,257.1 132.5,257.5 132.6,257.8 132.7,258.2 133.0,258.6 133.3,258.9 133.7,259.3" fill="none" stroke="#d8333c" stroke-width="0.92" stroke-linecap="round" opacity="0.85"/>
<polyline points="137.6,244.6 138.1,245.0 138.5,245.4 138.9,245.7 139.2,246.1 139.4,246.5 139.6,246.8 139.7,247.2 139.7,247.5" fill="none" stroke="#2c5fb0" stroke-width="0.92" stroke-linecap="round" opacity="0.85"/>
<polyline points="133.0,252.8 133.0,253.2 133.2,253.5 133.4,253.9 133.7,254.2 134.0,254.6 134.4,255.0 134.9,255.4 135.4,255.8 135.8,256.2 136.3,256.6 136.8,257.0 137.2,257.4 137.5,257.8 137.8,258.1 138.1,258.5 138.2,258.8 138.2,259.2 138.2,259.5" fill="none" stroke="#2c5fb0" stroke-width="0.92" stroke-linecap="round" opacity="0.85"/>
<path d="M133.9,245.1 L138.9,245.7 M135.0,247.3 L139.6,247.8 M137.8,249.6 L137.3,249.6 M139.1,251.8 L134.2,251.2 M137.5,253.6 L133.0,253.1 M134.3,255.3 L134.8,255.3 M132.5,257.1 L137.5,257.6" stroke="#d4c6d8" stroke-width="0.6"/>
<polyline points="134.5,244.2 134.2,244.5 134.0,244.8 133.9,245.1 133.9,245.5" fill="none" stroke="#d8333c" stroke-width="1.32" stroke-linecap="round"/>
<polyline points="139.1,252.2 138.9,252.5 138.6,252.8 138.3,253.1 137.9,253.4 137.4,253.7 136.9,254.0 136.4,254.2 135.8,254.5 135.3,254.8 134.7,255.0 134.2,255.3 133.7,255.6 133.3,255.9 133.0,256.2 132.7,256.5 132.5,256.8 132.5,257.1" fill="none" stroke="#d8333c" stroke-width="1.32" stroke-linecap="round"/>
<polyline points="139.7,247.5 139.5,247.8 139.3,248.2 139.1,248.5 138.7,248.8 138.3,249.0 137.8,249.3 137.3,249.6 136.7,249.9 136.1,250.1 135.6,250.4 135.0,250.7 134.5,251.0 134.1,251.3 133.7,251.5 133.4,251.8 133.2,252.2 133.0,252.5 133.0,252.8" fill="none" stroke="#2c5fb0" stroke-width="1.32" stroke-linecap="round"/>
<polyline points="138.2,259.5 138.1,259.8" fill="none" stroke="#2c5fb0" stroke-width="1.32" stroke-linecap="round"/>
<path d="M131.3,229.3 L122.5,229.3" stroke="#555" stroke-width="0.9"/><path d="M124.3,227.3 L120.6,229.3 L124.3,231.3 Z" fill="#555"/>
<path d="M132.8,260 L135.2,263.5 L137.8,260 Z" fill="#111"/>
<path d="M132.6,263.6 L135.2,266.8 L137.8,263.6 M135.2,266.5 L135.2,268.5" stroke="#c07a3a" stroke-width="1.3" fill="none"/>
<circle cx="134.7" cy="274.2" r="5.2" fill="url(#bead)" stroke="#8a8a8a" stroke-width="0.7"/>
<path d="M132.1,279 L130.5,292 M137.29999999999998,279 L138.89999999999998,292" stroke="#2a2a2a" stroke-width="1.2" fill="none"/>
<path d="M73.3,237.4 L110,237.4" stroke="#111" stroke-width="1.1"/><path d="M108.5,234.5 L115.3,237.4 L108.5,240.3 Z" fill="#111"/>
<text x="79.3" y="250.6" font-size="9.8" fill="#1a1a1a">dNTPs</text>
<rect x="210.5" y="10" width="143.0" height="105.2" fill="none" stroke="#5a5a5a" stroke-width="1"/>
<path d="M213.4,115.2 L213.4,113.4 M218.2,115.2 L218.2,113.4 M222.2,115.2 L222.2,113.4 M225.7,115.2 L225.7,113.4 M228.8,115.2 L228.8,113.4 M231.5,115.2 L231.5,112.2 M249.6,115.2 L249.6,113.4 M260.1,115.2 L260.1,113.4 M267.6,115.2 L267.6,113.4 M273.4,115.2 L273.4,113.4 M278.2,115.2 L278.2,113.4 M282.2,115.2 L282.2,113.4 M285.7,115.2 L285.7,113.4 M288.8,115.2 L288.8,113.4 M291.5,115.2 L291.5,112.2 M309.6,115.2 L309.6,113.4 M320.1,115.2 L320.1,113.4 M327.6,115.2 L327.6,113.4 M333.4,115.2 L333.4,113.4 M338.2,115.2 L338.2,113.4 M342.2,115.2 L342.2,113.4 M345.7,115.2 L345.7,113.4 M348.8,115.2 L348.8,113.4 M351.5,115.2 L351.5,112.2" stroke="#555" stroke-width="0.7"/>
<text x="231.9" y="124" font-size="9.6" text-anchor="middle" fill="#111">10</text>
<text x="291.9" y="124" font-size="9.6" text-anchor="middle" fill="#111">100</text>
<text x="351.9" y="124" font-size="9.6" text-anchor="middle" fill="#111">1000</text>
<text x="208.4" y="114.1" font-size="10" text-anchor="end" fill="#111">0</text>
<text x="208.4" y="86.1" font-size="10" text-anchor="end" fill="#111">40</text>
<text x="208.4" y="58.1" font-size="10" text-anchor="end" fill="#111">80</text>
<text x="208.4" y="30.1" font-size="10" text-anchor="end" fill="#111">120</text>
<text x="259.8" y="135.9" font-size="10.3" fill="#1a1a1a">[dNTP]μM</text>
<text transform="translate(186.8,61.7) rotate(-90)" font-size="10.6" text-anchor="middle" fill="#111">Velocity (bp s-1)</text>
<polyline points="213.4,99.5 214.4,99.1 215.4,98.6 216.4,98.2 217.4,97.7 218.4,97.3 219.4,96.8 220.4,96.3 221.4,95.8 222.4,95.3 223.4,94.7 224.4,94.2 225.4,93.7 226.4,93.1 227.4,92.5 228.4,91.9 229.4,91.3 230.4,90.7 231.4,90.1 232.4,89.5 233.4,88.8 234.4,88.2 235.4,87.5 236.4,86.8 237.4,86.1 238.4,85.4 239.4,84.7 240.4,84.0 241.4,83.3 242.4,82.5 243.4,81.8 244.4,81.0 245.4,80.3 246.4,79.5 247.4,78.7 248.4,78.0 249.4,77.2 250.4,76.4 251.4,75.6 252.4,74.8 253.4,74.0 254.4,73.1 255.4,72.3 256.4,71.5 257.4,70.7 258.4,69.9 259.4,69.0 260.4,68.2 261.4,67.4 262.4,66.6 263.4,65.8 264.4,64.9 265.4,64.1 266.4,63.3 267.4,62.5 268.4,61.7 269.4,60.9 270.4,60.1 271.4,59.3 272.4,58.5 273.4,57.8 274.4,57.0 275.4,56.3 276.4,55.5 277.4,54.8 278.4,54.0 279.4,53.3 280.4,52.6 281.4,51.9 282.4,51.2 283.4,50.5 284.4,49.8 285.4,49.2 286.4,48.5 287.4,47.9 288.4,47.3 289.4,46.6 290.4,46.0 291.4,45.5 292.4,44.9 293.4,44.3 294.4,43.7 295.4,43.2 296.4,42.7 297.4,42.2 298.4,41.6 299.4,41.1 300.4,40.7 301.4,40.2 302.4,39.7 303.4,39.3 304.4,38.8 305.4,38.4 306.4,38.0 307.4,37.6 308.4,37.2 309.4,36.8 310.4,36.4 311.4,36.1 312.4,35.7 313.4,35.4 314.4,35.0 315.4,34.7 316.4,34.4 317.4,34.1 318.4,33.8 319.4,33.5 320.4,33.2 321.4,33.0 322.4,32.7 323.4,32.4 324.4,32.2 325.4,32.0 326.4,31.7 327.4,31.5 328.4,31.3 329.4,31.1 330.4,30.9 331.4,30.7 332.4,30.5 333.4,30.3" fill="none" stroke="#1ee6f2" stroke-width="0.95"/>
<polyline points="213.4,101.8 214.4,101.5 215.4,101.1 216.4,100.7 217.4,100.3 218.4,99.9 219.4,99.5 220.4,99.1 221.4,98.7 222.4,98.3 223.4,97.8 224.4,97.4 225.4,96.9 226.4,96.4 227.4,96.0 228.4,95.5 229.4,95.0 230.4,94.4 231.4,93.9 232.4,93.4 233.4,92.8 234.4,92.2 235.4,91.7 236.4,91.1 237.4,90.5 238.4,89.9 239.4,89.3 240.4,88.7 241.4,88.0 242.4,87.4 243.4,86.7 244.4,86.1 245.4,85.4 246.4,84.7 247.4,84.0 248.4,83.3 249.4,82.6 250.4,81.9 251.4,81.2 252.4,80.5 253.4,79.7 254.4,79.0 255.4,78.3 256.4,77.5 257.4,76.8 258.4,76.0 259.4,75.3 260.4,74.5 261.4,73.8 262.4,73.0 263.4,72.2 264.4,71.5 265.4,70.7 266.4,69.9 267.4,69.2 268.4,68.4 269.4,67.7 270.4,66.9 271.4,66.2 272.4,65.4 273.4,64.7 274.4,63.9 275.4,63.2 276.4,62.5 277.4,61.8 278.4,61.0 279.4,60.3 280.4,59.6 281.4,58.9 282.4,58.3 283.4,57.6 284.4,56.9 285.4,56.2 286.4,55.6 287.4,55.0 288.4,54.3 289.4,53.7 290.4,53.1 291.4,52.5 292.4,51.9 293.4,51.3 294.4,50.8 295.4,50.2 296.4,49.6 297.4,49.1 298.4,48.6 299.4,48.1 300.4,47.6 301.4,47.1 302.4,46.6 303.4,46.1 304.4,45.6 305.4,45.2 306.4,44.8 307.4,44.3 308.4,43.9 309.4,43.5 310.4,43.1 311.4,42.7 312.4,42.3 313.4,42.0 314.4,41.6 315.4,41.3 316.4,40.9 317.4,40.6 318.4,40.3 319.4,40.0 320.4,39.7 321.4,39.4 322.4,39.1 323.4,38.8 324.4,38.5 325.4,38.3 326.4,38.0 327.4,37.8 328.4,37.5 329.4,37.3 330.4,37.1 331.4,36.9 332.4,36.7 333.4,36.5" fill="none" stroke="#a0a0a0" stroke-width="0.95"/>
<polyline points="213.4,104.2 214.4,104.0 215.4,103.7 216.4,103.4 217.4,103.1 218.4,102.8 219.4,102.5 220.4,102.2 221.4,101.9 222.4,101.5 223.4,101.2 224.4,100.8 225.4,100.5 226.4,100.1 227.4,99.7 228.4,99.4 229.4,99.0 230.4,98.6 231.4,98.2 232.4,97.7 233.4,97.3 234.4,96.9 235.4,96.4 236.4,96.0 237.4,95.5 238.4,95.0 239.4,94.6 240.4,94.1 241.4,93.6 242.4,93.1 243.4,92.6 244.4,92.0 245.4,91.5 246.4,91.0 247.4,90.4 248.4,89.9 249.4,89.3 250.4,88.7 251.4,88.2 252.4,87.6 253.4,87.0 254.4,86.4 255.4,85.8 256.4,85.2 257.4,84.6 258.4,84.0 259.4,83.4 260.4,82.7 261.4,82.1 262.4,81.5 263.4,80.9 264.4,80.2 265.4,79.6 266.4,79.0 267.4,78.3 268.4,77.7 269.4,77.0 270.4,76.4 271.4,75.8 272.4,75.1 273.4,74.5 274.4,73.9 275.4,73.2 276.4,72.6 277.4,72.0 278.4,71.4 279.4,70.7 280.4,70.1 281.4,69.5 282.4,68.9 283.4,68.3 284.4,67.7 285.4,67.1 286.4,66.5 287.4,66.0 288.4,65.4 289.4,64.8 290.4,64.3 291.4,63.7 292.4,63.2 293.4,62.7 294.4,62.1 295.4,61.6 296.4,61.1 297.4,60.6 298.4,60.1 299.4,59.6 300.4,59.2 301.4,58.7 302.4,58.2 303.4,57.8 304.4,57.3 305.4,56.9 306.4,56.5 307.4,56.1 308.4,55.7 309.4,55.3 310.4,54.9 311.4,54.5 312.4,54.2 313.4,53.8 314.4,53.4 315.4,53.1 316.4,52.8 317.4,52.4 318.4,52.1 319.4,51.8 320.4,51.5 321.4,51.2 322.4,50.9 323.4,50.7 324.4,50.4 325.4,50.1 326.4,49.9 327.4,49.6 328.4,49.4 329.4,49.1 330.4,48.9 331.4,48.7 332.4,48.5 333.4,48.3" fill="none" stroke="#111111" stroke-width="0.95"/>
<polyline points="213.4,106.7 214.4,106.5 215.4,106.3 216.4,106.1 217.4,105.8 218.4,105.6 219.4,105.3 220.4,105.1 221.4,104.8 222.4,104.6 223.4,104.3 224.4,104.0 225.4,103.7 226.4,103.4 227.4,103.1 228.4,102.7 229.4,102.4 230.4,102.1 231.4,101.7 232.4,101.4 233.4,101.0 234.4,100.6 235.4,100.2 236.4,99.8 237.4,99.4 238.4,99.0 239.4,98.6 240.4,98.2 241.4,97.7 242.4,97.3 243.4,96.8 244.4,96.4 245.4,95.9 246.4,95.4 247.4,94.9 248.4,94.4 249.4,93.9 250.4,93.4 251.4,92.9 252.4,92.4 253.4,91.8 254.4,91.3 255.4,90.7 256.4,90.2 257.4,89.6 258.4,89.1 259.4,88.5 260.4,88.0 261.4,87.4 262.4,86.8 263.4,86.2 264.4,85.7 265.4,85.1 266.4,84.5 267.4,83.9 268.4,83.3 269.4,82.7 270.4,82.2 271.4,81.6 272.4,81.0 273.4,80.4 274.4,79.9 275.4,79.3 276.4,78.7 277.4,78.2 278.4,77.6 279.4,77.0 280.4,76.5 281.4,76.0 282.4,75.4 283.4,74.9 284.4,74.4 285.4,73.8 286.4,73.3 287.4,72.8 288.4,72.3 289.4,71.8 290.4,71.4 291.4,70.9 292.4,70.4 293.4,70.0 294.4,69.5 295.4,69.1 296.4,68.7 297.4,68.2 298.4,67.8 299.4,67.4 300.4,67.0 301.4,66.7 302.4,66.3 303.4,65.9 304.4,65.6 305.4,65.2 306.4,64.9 307.4,64.5 308.4,64.2 309.4,63.9 310.4,63.6 311.4,63.3 312.4,63.0 313.4,62.7 314.4,62.5 315.4,62.2 316.4,61.9 317.4,61.7 318.4,61.5 319.4,61.2 320.4,61.0 321.4,60.8 322.4,60.6 323.4,60.4 324.4,60.2 325.4,60.0 326.4,59.8 327.4,59.6 328.4,59.4 329.4,59.3 330.4,59.1 331.4,58.9 332.4,58.8 333.4,58.6" fill="none" stroke="#2233f0" stroke-width="0.95"/>
<polyline points="213.4,108.5 214.4,108.4 215.4,108.2 216.4,108.0 217.4,107.8 218.4,107.7 219.4,107.5 220.4,107.3 221.4,107.1 222.4,106.9 223.4,106.6 224.4,106.4 225.4,106.2 226.4,106.0 227.4,105.7 228.4,105.5 229.4,105.2 230.4,104.9 231.4,104.6 232.4,104.4 233.4,104.1 234.4,103.8 235.4,103.5 236.4,103.1 237.4,102.8 238.4,102.5 239.4,102.1 240.4,101.8 241.4,101.4 242.4,101.0 243.4,100.7 244.4,100.3 245.4,99.9 246.4,99.5 247.4,99.1 248.4,98.7 249.4,98.2 250.4,97.8 251.4,97.4 252.4,96.9 253.4,96.5 254.4,96.0 255.4,95.5 256.4,95.1 257.4,94.6 258.4,94.1 259.4,93.6 260.4,93.1 261.4,92.6 262.4,92.1 263.4,91.6 264.4,91.1 265.4,90.6 266.4,90.1 267.4,89.6 268.4,89.1 269.4,88.5 270.4,88.0 271.4,87.5 272.4,87.0 273.4,86.5 274.4,86.0 275.4,85.5 276.4,85.0 277.4,84.5 278.4,84.0 279.4,83.5 280.4,83.0 281.4,82.5 282.4,82.0 283.4,81.6 284.4,81.1 285.4,80.6 286.4,80.2 287.4,79.7 288.4,79.3 289.4,78.9 290.4,78.4 291.4,78.0 292.4,77.6 293.4,77.2 294.4,76.8 295.4,76.4 296.4,76.0 297.4,75.7 298.4,75.3 299.4,75.0 300.4,74.6 301.4,74.3 302.4,73.9 303.4,73.6 304.4,73.3 305.4,73.0 306.4,72.7 307.4,72.4 308.4,72.2 309.4,71.9 310.4,71.6 311.4,71.4 312.4,71.1 313.4,70.9 314.4,70.7 315.4,70.4 316.4,70.2 317.4,70.0 318.4,69.8 319.4,69.6 320.4,69.4 321.4,69.2 322.4,69.1 323.4,68.9 324.4,68.7 325.4,68.6 326.4,68.4 327.4,68.3 328.4,68.1 329.4,68.0 330.4,67.8 331.4,67.7 332.4,67.6 333.4,67.5" fill="none" stroke="#f2368e" stroke-width="0.95"/>
<polyline points="213.4,110.3 214.4,110.2 215.4,110.1 216.4,110.0 217.4,109.9 218.4,109.8 219.4,109.6 220.4,109.5 221.4,109.4 222.4,109.2 223.4,109.0 224.4,108.9 225.4,108.7 226.4,108.5 227.4,108.4 228.4,108.2 229.4,108.0 230.4,107.8 231.4,107.5 232.4,107.3 233.4,107.1 234.4,106.9 235.4,106.6 236.4,106.4 237.4,106.1 238.4,105.8 239.4,105.5 240.4,105.2 241.4,104.9 242.4,104.6 243.4,104.3 244.4,104.0 245.4,103.7 246.4,103.3 247.4,103.0 248.4,102.6 249.4,102.2 250.4,101.9 251.4,101.5 252.4,101.1 253.4,100.7 254.4,100.3 255.4,99.9 256.4,99.5 257.4,99.0 258.4,98.6 259.4,98.2 260.4,97.7 261.4,97.3 262.4,96.8 263.4,96.4 264.4,95.9 265.4,95.5 266.4,95.0 267.4,94.6 268.4,94.1 269.4,93.7 270.4,93.2 271.4,92.8 272.4,92.3 273.4,91.9 274.4,91.5 275.4,91.0 276.4,90.6 277.4,90.2 278.4,89.7 279.4,89.3 280.4,88.9 281.4,88.5 282.4,88.1 283.4,87.7 284.4,87.4 285.4,87.0 286.4,86.6 287.4,86.3 288.4,85.9 289.4,85.6 290.4,85.3 291.4,84.9 292.4,84.6 293.4,84.3 294.4,84.0 295.4,83.7 296.4,83.5 297.4,83.2 298.4,82.9 299.4,82.7 300.4,82.5 301.4,82.2 302.4,82.0 303.4,81.8 304.4,81.6 305.4,81.4 306.4,81.2 307.4,81.0 308.4,80.8 309.4,80.6 310.4,80.5 311.4,80.3 312.4,80.2 313.4,80.0 314.4,79.9 315.4,79.8 316.4,79.6 317.4,79.5 318.4,79.4 319.4,79.3 320.4,79.2 321.4,79.1 322.4,79.0 323.4,78.9 324.4,78.8 325.4,78.7 326.4,78.6 327.4,78.5 328.4,78.5 329.4,78.4 330.4,78.3 331.4,78.3 332.4,78.2 333.4,78.1" fill="none" stroke="#2a8a2a" stroke-width="0.95"/>
<path d="M213.4,97.5 L213.4,105.5" stroke="#1ee6f2" stroke-width="0.8" stroke-dasharray="1,0.8" opacity="0.55"/>
<path d="M212.4,97.5 L214.4,97.5 M212.4,105.5 L214.4,105.5" stroke="#1ee6f2" stroke-width="0.6" opacity="0.55"/>
<circle cx="213.4" cy="101.5" r="2.0" fill="#1ee6f2"/>
<path d="M231.5,88.7 L231.5,99.3" stroke="#1ee6f2" stroke-width="0.8" stroke-dasharray="1,0.8" opacity="0.55"/>
<path d="M230.5,88.7 L232.5,88.7 M230.5,99.3 L232.5,99.3" stroke="#1ee6f2" stroke-width="0.6" opacity="0.55"/>
<circle cx="231.5" cy="94" r="2.0" fill="#1ee6f2"/>
<path d="M273.4,57.9 L273.4,71.1" stroke="#1ee6f2" stroke-width="0.8" stroke-dasharray="1,0.8" opacity="0.55"/>
<path d="M272.4,57.9 L274.4,57.9 M272.4,71.1 L274.4,71.1" stroke="#1ee6f2" stroke-width="0.6" opacity="0.55"/>
<circle cx="273.4" cy="64.5" r="2.0" fill="#1ee6f2"/>
<path d="M291.5,32.6 L291.5,48.4" stroke="#1ee6f2" stroke-width="0.8" stroke-dasharray="1,0.8" opacity="0.55"/>
<path d="M290.5,32.6 L292.5,32.6 M290.5,48.4 L292.5,48.4" stroke="#1ee6f2" stroke-width="0.6" opacity="0.55"/>
<circle cx="291.5" cy="40.5" r="2.0" fill="#1ee6f2"/>
<path d="M309.6,29.0 L309.6,47.4" stroke="#1ee6f2" stroke-width="0.8" stroke-dasharray="1,0.8" opacity="0.55"/>
<path d="M308.6,29.0 L310.6,29.0 M308.6,47.4 L310.6,47.4" stroke="#1ee6f2" stroke-width="0.6" opacity="0.55"/>
<circle cx="309.6" cy="38.2" r="2.0" fill="#1ee6f2"/>
<path d="M333.4,20.0 L333.4,41.0" stroke="#1ee6f2" stroke-width="0.8" stroke-dasharray="1,0.8" opacity="0.55"/>
<path d="M332.4,20.0 L334.4,20.0 M332.4,41.0 L334.4,41.0" stroke="#1ee6f2" stroke-width="0.6" opacity="0.55"/>
<circle cx="333.4" cy="30.5" r="2.0" fill="#1ee6f2"/>
<path d="M213.4,98.6 L213.4,106.6" stroke="#a0a0a0" stroke-width="0.8" stroke-dasharray="1,0.8" opacity="0.55"/>
<path d="M212.4,98.6 L214.4,98.6 M212.4,106.6 L214.4,106.6" stroke="#a0a0a0" stroke-width="0.6" opacity="0.55"/>
<circle cx="213.4" cy="102.6" r="2.0" fill="#a0a0a0"/>
<path d="M231.5,86.3 L231.5,96.9" stroke="#a0a0a0" stroke-width="0.8" stroke-dasharray="1,0.8" opacity="0.55"/>
<path d="M230.5,86.3 L232.5,86.3 M230.5,96.9 L232.5,96.9" stroke="#a0a0a0" stroke-width="0.6" opacity="0.55"/>
<circle cx="231.5" cy="91.6" r="2.0" fill="#a0a0a0"/>
<path d="M273.4,64.4 L273.4,77.6" stroke="#a0a0a0" stroke-width="0.8" stroke-dasharray="1,0.8" opacity="0.55"/>
<path d="M272.4,64.4 L274.4,64.4 M272.4,77.6 L274.4,77.6" stroke="#a0a0a0" stroke-width="0.6" opacity="0.55"/>
<circle cx="273.4" cy="71" r="2.0" fill="#a0a0a0"/>
<path d="M291.5,46.8 L291.5,62.6" stroke="#a0a0a0" stroke-width="0.8" stroke-dasharray="1,0.8" opacity="0.55"/>
<path d="M290.5,46.8 L292.5,46.8 M290.5,62.6 L292.5,62.6" stroke="#a0a0a0" stroke-width="0.6" opacity="0.55"/>
<circle cx="291.5" cy="54.7" r="2.0" fill="#a0a0a0"/>
<path d="M309.6,40.0 L309.6,58.4" stroke="#a0a0a0" stroke-width="0.8" stroke-dasharray="1,0.8" opacity="0.55"/>
<path d="M308.6,40.0 L310.6,40.0 M308.6,58.4 L310.6,58.4" stroke="#a0a0a0" stroke-width="0.6" opacity="0.55"/>
<circle cx="309.6" cy="49.2" r="2.0" fill="#a0a0a0"/>
<path d="M333.4,25.8 L333.4,46.8" stroke="#a0a0a0" stroke-width="0.8" stroke-dasharray="1,0.8" opacity="0.55"/>
<path d="M332.4,25.8 L334.4,25.8 M332.4,46.8 L334.4,46.8" stroke="#a0a0a0" stroke-width="0.6" opacity="0.55"/>
<circle cx="333.4" cy="36.3" r="2.0" fill="#a0a0a0"/>
<path d="M213.4,99.7 L213.4,107.7" stroke="#111111" stroke-width="0.8" stroke-dasharray="1,0.8" opacity="0.55"/>
<path d="M212.4,99.7 L214.4,99.7 M212.4,107.7 L214.4,107.7" stroke="#111111" stroke-width="0.6" opacity="0.55"/>
<circle cx="213.4" cy="103.7" r="2.0" fill="#111111"/>
<path d="M231.5,87.7 L231.5,98.3" stroke="#111111" stroke-width="0.8" stroke-dasharray="1,0.8" opacity="0.55"/>
<path d="M230.5,87.7 L232.5,87.7 M230.5,98.3 L232.5,98.3" stroke="#111111" stroke-width="0.6" opacity="0.55"/>
<circle cx="231.5" cy="93" r="2.0" fill="#111111"/>
<path d="M273.4,75.4 L273.4,88.6" stroke="#111111" stroke-width="0.8" stroke-dasharray="1,0.8" opacity="0.55"/>
<path d="M272.4,75.4 L274.4,75.4 M272.4,88.6 L274.4,88.6" stroke="#111111" stroke-width="0.6" opacity="0.55"/>
<circle cx="273.4" cy="82" r="2.0" fill="#111111"/>
<path d="M291.5,57.3 L291.5,73.1" stroke="#111111" stroke-width="0.8" stroke-dasharray="1,0.8" opacity="0.55"/>
<path d="M290.5,57.3 L292.5,57.3 M290.5,73.1 L292.5,73.1" stroke="#111111" stroke-width="0.6" opacity="0.55"/>
<circle cx="291.5" cy="65.2" r="2.0" fill="#111111"/>
<path d="M309.6,48.1 L309.6,66.5" stroke="#111111" stroke-width="0.8" stroke-dasharray="1,0.8" opacity="0.55"/>
<path d="M308.6,48.1 L310.6,48.1 M308.6,66.5 L310.6,66.5" stroke="#111111" stroke-width="0.6" opacity="0.55"/>
<circle cx="309.6" cy="57.3" r="2.0" fill="#111111"/>
<path d="M333.4,39.4 L333.4,60.4" stroke="#111111" stroke-width="0.8" stroke-dasharray="1,0.8" opacity="0.55"/>
<path d="M332.4,39.4 L334.4,39.4 M332.4,60.4 L334.4,60.4" stroke="#111111" stroke-width="0.6" opacity="0.55"/>
<circle cx="333.4" cy="49.9" r="2.0" fill="#111111"/>
<path d="M213.4,104.0 L213.4,112.0" stroke="#2233f0" stroke-width="0.8" stroke-dasharray="1,0.8" opacity="0.55"/>
<path d="M212.4,104.0 L214.4,104.0 M212.4,112.0 L214.4,112.0" stroke="#2233f0" stroke-width="0.6" opacity="0.55"/>
<circle cx="213.4" cy="108" r="2.0" fill="#2233f0"/>
<path d="M231.5,97.9 L231.5,108.5" stroke="#2233f0" stroke-width="0.8" stroke-dasharray="1,0.8" opacity="0.55"/>
<path d="M230.5,97.9 L232.5,97.9 M230.5,108.5 L232.5,108.5" stroke="#2233f0" stroke-width="0.6" opacity="0.55"/>
<circle cx="231.5" cy="103.2" r="2.0" fill="#2233f0"/>
<path d="M273.4,84.7 L273.4,97.9" stroke="#2233f0" stroke-width="0.8" stroke-dasharray="1,0.8" opacity="0.55"/>
<path d="M272.4,84.7 L274.4,84.7 M272.4,97.9 L274.4,97.9" stroke="#2233f0" stroke-width="0.6" opacity="0.55"/>
<circle cx="273.4" cy="91.3" r="2.0" fill="#2233f0"/>
<path d="M291.5,58.1 L291.5,73.9" stroke="#2233f0" stroke-width="0.8" stroke-dasharray="1,0.8" opacity="0.55"/>
<path d="M290.5,58.1 L292.5,58.1 M290.5,73.9 L292.5,73.9" stroke="#2233f0" stroke-width="0.6" opacity="0.55"/>
<circle cx="291.5" cy="66" r="2.0" fill="#2233f0"/>
<path d="M309.6,57.0 L309.6,75.4" stroke="#2233f0" stroke-width="0.8" stroke-dasharray="1,0.8" opacity="0.55"/>
<path d="M308.6,57.0 L310.6,57.0 M308.6,75.4 L310.6,75.4" stroke="#2233f0" stroke-width="0.6" opacity="0.55"/>
<circle cx="309.6" cy="66.2" r="2.0" fill="#2233f0"/>
<path d="M333.4,52.0 L333.4,73.0" stroke="#2233f0" stroke-width="0.8" stroke-dasharray="1,0.8" opacity="0.55"/>
<path d="M332.4,52.0 L334.4,52.0 M332.4,73.0 L334.4,73.0" stroke="#2233f0" stroke-width="0.6" opacity="0.55"/>
<circle cx="333.4" cy="62.5" r="2.0" fill="#2233f0"/>
<path d="M213.4,106.3 L213.4,114.3" stroke="#f2368e" stroke-width="0.8" stroke-dasharray="1,0.8" opacity="0.55"/>
<path d="M212.4,106.3 L214.4,106.3 M212.4,114.3 L214.4,114.3" stroke="#f2368e" stroke-width="0.6" opacity="0.55"/>
<circle cx="213.4" cy="110.3" r="2.0" fill="#f2368e"/>
<path d="M231.5,100.6 L231.5,111.2" stroke="#f2368e" stroke-width="0.8" stroke-dasharray="1,0.8" opacity="0.55"/>
<path d="M230.5,100.6 L232.5,100.6 M230.5,111.2 L232.5,111.2" stroke="#f2368e" stroke-width="0.6" opacity="0.55"/>
<circle cx="231.5" cy="105.9" r="2.0" fill="#f2368e"/>
<path d="M273.4,87.5 L273.4,100.7" stroke="#f2368e" stroke-width="0.8" stroke-dasharray="1,0.8" opacity="0.55"/>
<path d="M272.4,87.5 L274.4,87.5 M272.4,100.7 L274.4,100.7" stroke="#f2368e" stroke-width="0.6" opacity="0.55"/>
<circle cx="273.4" cy="94.1" r="2.0" fill="#f2368e"/>
<path d="M291.5,66.8 L291.5,82.6" stroke="#f2368e" stroke-width="0.8" stroke-dasharray="1,0.8" opacity="0.55"/>
<path d="M290.5,66.8 L292.5,66.8 M290.5,82.6 L292.5,82.6" stroke="#f2368e" stroke-width="0.6" opacity="0.55"/>
<circle cx="291.5" cy="74.7" r="2.0" fill="#f2368e"/>
<path d="M309.6,71.9 L309.6,90.3" stroke="#f2368e" stroke-width="0.8" stroke-dasharray="1,0.8" opacity="0.55"/>
<path d="M308.6,71.9 L310.6,71.9 M308.6,90.3 L310.6,90.3" stroke="#f2368e" stroke-width="0.6" opacity="0.55"/>
<circle cx="309.6" cy="81.1" r="2.0" fill="#f2368e"/>
<path d="M333.4,61.5 L333.4,82.5" stroke="#f2368e" stroke-width="0.8" stroke-dasharray="1,0.8" opacity="0.55"/>
<path d="M332.4,61.5 L334.4,61.5 M332.4,82.5 L334.4,82.5" stroke="#f2368e" stroke-width="0.6" opacity="0.55"/>
<circle cx="333.4" cy="72" r="2.0" fill="#f2368e"/>
<path d="M213.4,106.8 L213.4,114.8" stroke="#2a8a2a" stroke-width="0.8" stroke-dasharray="1,0.8" opacity="0.55"/>
<path d="M212.4,106.8 L214.4,106.8 M212.4,114.8 L214.4,114.8" stroke="#2a8a2a" stroke-width="0.6" opacity="0.55"/>
<circle cx="213.4" cy="110.8" r="2.0" fill="#2a8a2a"/>
<path d="M231.5,103.3 L231.5,113.9" stroke="#2a8a2a" stroke-width="0.8" stroke-dasharray="1,0.8" opacity="0.55"/>
<path d="M230.5,103.3 L232.5,103.3 M230.5,113.9 L232.5,113.9" stroke="#2a8a2a" stroke-width="0.6" opacity="0.55"/>
<circle cx="231.5" cy="108.6" r="2.0" fill="#2a8a2a"/>
<path d="M273.4,94.5 L273.4,107.7" stroke="#2a8a2a" stroke-width="0.8" stroke-dasharray="1,0.8" opacity="0.55"/>
<path d="M272.4,94.5 L274.4,94.5 M272.4,107.7 L274.4,107.7" stroke="#2a8a2a" stroke-width="0.6" opacity="0.55"/>
<circle cx="273.4" cy="101.1" r="2.0" fill="#2a8a2a"/>
<path d="M291.5,76.6 L291.5,92.4" stroke="#2a8a2a" stroke-width="0.8" stroke-dasharray="1,0.8" opacity="0.55"/>
<path d="M290.5,76.6 L292.5,76.6 M290.5,92.4 L292.5,92.4" stroke="#2a8a2a" stroke-width="0.6" opacity="0.55"/>
<circle cx="291.5" cy="84.5" r="2.0" fill="#2a8a2a"/>
<path d="M309.6,76.6 L309.6,95.0" stroke="#2a8a2a" stroke-width="0.8" stroke-dasharray="1,0.8" opacity="0.55"/>
<path d="M308.6,76.6 L310.6,76.6 M308.6,95.0 L310.6,95.0" stroke="#2a8a2a" stroke-width="0.6" opacity="0.55"/>
<circle cx="309.6" cy="85.8" r="2.0" fill="#2a8a2a"/>
<path d="M333.4,68.3 L333.4,89.3" stroke="#2a8a2a" stroke-width="0.8" stroke-dasharray="1,0.8" opacity="0.55"/>
<path d="M332.4,68.3 L334.4,68.3 M332.4,89.3 L334.4,89.3" stroke="#2a8a2a" stroke-width="0.6" opacity="0.55"/>
<circle cx="333.4" cy="78.8" r="2.0" fill="#2a8a2a"/>
<text x="352.4" y="28.6" font-size="6.3" text-anchor="end" font-weight="normal" fill="#30dce8">20pN</text>
<text x="352.4" y="39.8" font-size="6.3" text-anchor="end" font-weight="normal" fill="#8a8a8a">5pN</text>
<text x="352.4" y="49.8" font-size="6.3" text-anchor="end" font-weight="bold" fill="#000000">-5pN</text>
<text x="352.4" y="60.3" font-size="6.3" text-anchor="end" font-weight="bold" fill="#1a2aee">-10pN</text>
<text x="352.4" y="71" font-size="6.3" text-anchor="end" font-weight="bold" fill="#f0308c">-15pN</text>
<text x="352.4" y="83.5" font-size="6.3" text-anchor="end" font-weight="bold" fill="#2a8a2a">-20pN</text>
<path d="M388.8,36.6 L400.40000000000003,36.6 M390.8,36.6 L390.8,42.2 M395.6,36.6 L395.6,42.2 M400.0,36.6 L400.0,42.2" stroke="#e84a52" stroke-width="1.3"/>
<path d="M388.8,48.0 L416.8,48.0 M390.8,42.2 L390.8,48.0 M395.6,42.2 L395.6,48.0 M400.0,42.2 L400.0,48.0 M404.8,48.0 L404.8,45.8 M410.40000000000003,48.0 L410.40000000000003,45.8 M415.2,48.0 L415.2,45.8" stroke="#3a78cc" stroke-width="1.3"/>
<path d="M398.0,32.0 L411.6,32.0 L404.8,43.4 Z" fill="none" stroke="#111" stroke-width="1.3" stroke-linejoin="miter"/>
<path d="M489.4,36.6 L505.79999999999995,36.6 M491.4,36.6 L491.4,42.2 M495.79999999999995,36.6 L495.79999999999995,42.2 M500.2,36.6 L500.2,42.2" stroke="#e84a52" stroke-width="1.3"/>
<path d="M489.4,48.0 L517.0,48.0 M491.4,42.2 L491.4,48.0 M495.79999999999995,42.2 L495.79999999999995,48.0 M500.2,42.2 L500.2,48.0 M510.4,48.0 L510.4,45.8 M515.0,48.0 L515.0,45.8 M506.2,43.2 L506.2,48.0" stroke="#3a78cc" stroke-width="1.3"/>
<path d="M506.2,36.6 L506.2,43.2" stroke="#1fb04a" stroke-width="1.4"/>
<path d="M503.59999999999997,32.0 L517.1999999999999,32.0 L510.4,43.4 Z" fill="none" stroke="#111" stroke-width="1.3" stroke-linejoin="miter"/>
<path d="M389,86 L400.6,86 M391,86 L391,91.6 M395.4,86 L395.4,91.6 M400.2,86 L400.2,91.6" stroke="#e84a52" stroke-width="1.3"/>
<path d="M389,97.4 L416.6,97.4 M391,91.6 L391,97.4 M395.4,91.6 L395.4,97.4 M400.2,91.6 L400.2,97.4 M404.6,97.4 L404.6,95.2 M410.2,97.4 L410.2,95.2 M415,97.4 L415,95.2" stroke="#3a78cc" stroke-width="1.3"/>
<path d="M403.40000000000003,85.8 L404.1,88.4" stroke="#1fb04a" stroke-width="1.3"/>
<path d="M397.8,81.4 L411.40000000000003,81.4 L404.6,92.8 Z" fill="none" stroke="#111" stroke-width="1.3" stroke-linejoin="miter"/>
<path d="M439.2,85.8 L456.0,85.8 M440.4,85.8 L440.4,91.39999999999999 M445.59999999999997,85.8 L445.59999999999997,91.39999999999999 M450.4,85.8 L450.4,91.39999999999999" stroke="#e84a52" stroke-width="1.3"/>
<path d="M439.2,97.2 L466.8,97.2 M440.4,91.39999999999999 L440.4,97.2 M445.59999999999997,91.39999999999999 L445.59999999999997,97.2 M450.4,91.39999999999999 L450.4,97.2 M460.4,97.2 L460.4,95.0 M465.2,97.2 L465.2,95.0 M455.2,92.39999999999999 L455.2,97.2" stroke="#3a78cc" stroke-width="1.3"/>
<path d="M455.2,85.8 L455.2,92.39999999999999" stroke="#1fb04a" stroke-width="1.4"/>
<path d="M448.79999999999995,81.2 L462.4,81.2 L455.59999999999997,92.6 Z" fill="none" stroke="#111" stroke-width="1.3" stroke-linejoin="miter"/>
<path d="M490.4,86 L507.2,86 M492.0,86 L492.0,91.6 M496.79999999999995,86 L496.79999999999995,91.6 M501.59999999999997,86 L501.59999999999997,91.6" stroke="#e84a52" stroke-width="1.3"/>
<path d="M490.4,97.4 L518.4,97.4 M492.0,91.6 L492.0,97.4 M496.79999999999995,91.6 L496.79999999999995,97.4 M501.59999999999997,91.6 L501.59999999999997,97.4 M511.59999999999997,97.4 L511.59999999999997,95.2 M516.1999999999999,97.4 L516.1999999999999,95.2 M506.79999999999995,92.6 L506.79999999999995,97.4" stroke="#3a78cc" stroke-width="1.3"/>
<path d="M506.79999999999995,86 L506.79999999999995,92.6" stroke="#1fb04a" stroke-width="1.4"/>
<path d="M500.4,81.4 L514.0,81.4 L507.2,92.8 Z" fill="none" stroke="#111" stroke-width="1.3" stroke-linejoin="miter"/>
<text x="427.4" y="38.6" font-size="10.4" fill="#222">n</text>
<text x="419.5" y="50.3" font-size="10.4" fill="#222">Post</text>
<text x="520.8" y="38.6" font-size="10.4" fill="#222">n+1</text>
<text x="518.4" y="50.5" font-size="10.4" font-weight="bold" fill="#ee1c24">Post</text>
<text x="521" y="95.4" font-size="10.6" font-weight="bold" fill="#ee1c24">Pre</text>
<text x="389" y="111.4" font-size="8" fill="#222">n-dNTP</text>
<text x="440.5" y="111.2" font-size="7.8" fill="#222">n+1-PPi</text>
<text x="497.8" y="111.2" font-size="7.8" fill="#222">n+1</text>
<text x="477.4" y="105.8" font-size="6.6" font-weight="bold" fill="#222">PPi</text>
<text x="411" y="74" font-size="7.8" font-style="italic" fill="#333">[dNTPs]</text>
<rect x="402" y="58.5" width="4" height="20.5" fill="#b4b4b4" stroke="#444" stroke-width="0.6"/><path d="M404,59 L404,78.5" stroke="#666" stroke-width="0.5"/>
<path d="M401.5,62 L404,57.8 L404,62 M406.6,75.5 L404.2,79.6 L404.2,75.5" stroke="#111" stroke-width="0.9" fill="none"/>
<rect x="417.5" y="91.7" width="21" height="3.6" fill="#b4b4b4" stroke="#444" stroke-width="0.6"/><path d="M418,93.5 L438,93.5" stroke="#666" stroke-width="0.5"/>
<path d="M421,91 L417,93.3 L421,93.3 M435,96 L439,93.7 L435,93.7" stroke="#111" stroke-width="0.9" fill="none"/>
<path d="M467.3,92.7 L485.5,92.7" stroke="#111" stroke-width="1"/><path d="M484,90.9 L488,92.7 L484,94.5 Z" fill="#111"/>
<path d="M475.5,92.7 C480,93 482.2,94.8 482.4,98" stroke="#111" stroke-width="0.9" fill="none"/><path d="M480.8,97.2 L482.4,100.2 L484,97.2 Z" fill="#111"/>
<rect x="504.8" y="55.5" width="4.2" height="21.3" fill="#f03a42"/>
<path d="M506.9,56 L506.9,76.5" stroke="#ff8088" stroke-width="0.6"/>
<path d="M505.5,58 L506.3,56.5 L506.3,59.5 Z M508.3,74.5 L507.5,76 L507.5,73 Z" fill="#fff" opacity="0.7"/>
<text x="487.4" y="69.6" font-size="8.2" font-style="italic" fill="#ee1c24" stroke="#ee1c24" stroke-width="0.2">k<tspan font-size="5" dy="1.6">1</tspan><tspan dy="-1.6">(F)</tspan></text>
<text x="510.4" y="69.6" font-size="8.2" font-style="italic" fill="#ee1c24" stroke="#ee1c24" stroke-width="0.2">k<tspan font-size="5" dy="1.6">-1</tspan><tspan dy="-1.6">(F)</tspan></text>
<rect x="210.6" y="168" width="145.00000000000003" height="103.5" fill="none" stroke="#3a3a3a" stroke-width="1"/>
<path d="M210.0,271.5 L210.0,268.5 M210.0,168 L210.0,171 M222.1,271.5 L222.1,269.7 M222.1,168 L222.1,169.8 M234.2,271.5 L234.2,268.5 M234.2,168 L234.2,171 M246.4,271.5 L246.4,269.7 M246.4,168 L246.4,169.8 M258.5,271.5 L258.5,268.5 M258.5,168 L258.5,171 M270.6,271.5 L270.6,269.7 M270.6,168 L270.6,169.8 M282.8,271.5 L282.8,268.5 M282.8,168 L282.8,171 M294.9,271.5 L294.9,269.7 M294.9,168 L294.9,169.8 M307.0,271.5 L307.0,268.5 M307.0,168 L307.0,171 M319.1,271.5 L319.1,269.7 M319.1,168 L319.1,169.8 M331.2,271.5 L331.2,268.5 M331.2,168 L331.2,171 M343.4,271.5 L343.4,269.7 M343.4,168 L343.4,169.8 M355.5,271.5 L355.5,268.5 M355.5,168 L355.5,171 M210.6,271.5 L213.6,271.5 M355.6,271.5 L352.6,271.5 M210.6,271.5 L207.6,271.5 M210.6,257.6 L212.4,257.6 M355.6,257.6 L353.8,257.6 M210.6,243.8 L213.6,243.8 M355.6,243.8 L352.6,243.8 M210.6,243.8 L207.6,243.8 M210.6,229.9 L212.4,229.9 M355.6,229.9 L353.8,229.9 M210.6,216.1 L213.6,216.1 M355.6,216.1 L352.6,216.1 M210.6,216.1 L207.6,216.1 M210.6,202.2 L212.4,202.2 M355.6,202.2 L353.8,202.2 M210.6,188.4 L213.6,188.4 M355.6,188.4 L352.6,188.4 M210.6,188.4 L207.6,188.4 M210.6,174.6 L212.4,174.6 M355.6,174.6 L353.8,174.6" stroke="#3a3a3a" stroke-width="0.7"/>
<text x="210.0" y="283" font-size="9.6" text-anchor="middle" fill="#111">2</text>
<text x="234.2" y="283" font-size="9.6" text-anchor="middle" fill="#111">4</text>
<text x="258.5" y="283" font-size="9.6" text-anchor="middle" fill="#111">6</text>
<text x="282.8" y="283" font-size="9.6" text-anchor="middle" fill="#111">8</text>
<text x="307.0" y="283" font-size="9.6" text-anchor="middle" fill="#111">10</text>
<text x="331.2" y="283" font-size="9.6" text-anchor="middle" fill="#111">12</text>
<text x="355.5" y="283" font-size="9.6" text-anchor="middle" fill="#111">14</text>
<text x="205.4" y="273.8" font-size="9.6" text-anchor="end" fill="#111">0</text>
<text x="205.4" y="246.1" font-size="9.6" text-anchor="end" fill="#111">40</text>
<text x="205.4" y="218.4" font-size="9.6" text-anchor="end" fill="#111">80</text>
<text x="205.4" y="190.7" font-size="9.6" text-anchor="end" fill="#111">120</text>
<text x="283.5" y="296.4" font-size="10.4" text-anchor="middle" fill="#1a1a1a">Tension (pN)</text>
<text transform="translate(182.8,221.4) rotate(-90)" font-size="10.3" text-anchor="middle" fill="#111">Mean velocity (nt/s)</text>
<path d="M210.6,183 L355.6,183" stroke="#ff6060" stroke-width="1.2"/>
<polyline points="210.6,214.6 211.8,214.5 213.0,214.5 214.2,214.4 215.4,214.4 216.6,214.3 217.8,214.2 219.1,214.2 220.3,214.1 221.5,214.0 222.7,214.0 223.9,213.9 225.1,213.8 226.3,213.7 227.5,213.6 228.7,213.5 229.9,213.4 231.1,213.3 232.3,213.2 233.6,213.1 234.8,213.0 236.0,212.9 237.2,212.7 238.4,212.6 239.6,212.4 240.8,212.3 242.0,212.1 243.2,212.0 244.4,211.8 245.6,211.6 246.8,211.4 248.1,211.2 249.3,211.0 250.5,210.8 251.7,210.6 252.9,210.4 254.1,210.1 255.3,209.9 256.5,209.6 257.7,209.4 258.9,209.1 260.1,208.8 261.4,208.5 262.6,208.2 263.8,207.9 265.0,207.6 266.2,207.3 267.4,206.9 268.6,206.6 269.8,206.2 271.0,205.8 272.2,205.5 273.4,205.1 274.6,204.7 275.9,204.3 277.1,203.9 278.3,203.5 279.5,203.1 280.7,202.7 281.9,202.3 283.1,201.9 284.3,201.4 285.5,201.0 286.7,200.6 287.9,200.1 289.1,199.7 290.4,199.3 291.6,198.8 292.8,198.4 294.0,198.0 295.2,197.6 296.4,197.1 297.6,196.7 298.8,196.3 300.0,195.9 301.2,195.5 302.4,195.1 303.6,194.7 304.9,194.3 306.1,194.0 307.3,193.6 308.5,193.2 309.7,192.9 310.9,192.6 312.1,192.2 313.3,191.9 314.5,191.6 315.7,191.3 316.9,191.0 318.1,190.7 319.4,190.4 320.6,190.1 321.8,189.9 323.0,189.6 324.2,189.4 325.4,189.2 326.6,188.9 327.8,188.7 329.0,188.5 330.2,188.3 331.4,188.1 332.6,187.9 333.9,187.8 335.1,187.6 336.3,187.4 337.5,187.3 338.7,187.1 339.9,187.0 341.1,186.8 342.3,186.7 343.5,186.6 344.7,186.5 345.9,186.4 347.1,186.3 348.4,186.2 349.6,186.1 350.8,186.0 352.0,185.9 353.2,185.8 354.4,185.7 355.6,185.6" fill="none" stroke="#3050f0" stroke-width="1.1"/>
<text x="212.8" y="177.6" font-size="10.5" fill="#ff3030">V<tspan font-size="7" dy="2">pe</tspan></text>
<text x="212.8" y="227.8" font-size="10.5" fill="#1a2ad0">V<tspan font-size="7" dy="2">sd</tspan></text>
<path d="M227.1,177.3 L227.1,201.3" stroke="#555" stroke-width="0.8"/>
<path d="M225.9,177.3 L228.29999999999998,177.3 M225.9,201.3 L228.29999999999998,201.3" stroke="#555" stroke-width="0.8"/>
<circle cx="227.1" cy="184.5" r="2.1" fill="#fff" stroke="#ff4040" stroke-width="0.9"/>
<circle cx="227.1" cy="192.8" r="2.4" fill="#ee1010"/>
<path d="M243.7,176 L243.7,196" stroke="#555" stroke-width="0.8"/>
<path d="M242.5,176 L244.89999999999998,176 M242.5,196 L244.89999999999998,196" stroke="#555" stroke-width="0.8"/>
<circle cx="243.7" cy="183.5" r="2.1" fill="#fff" stroke="#ff4040" stroke-width="0.9"/>
<circle cx="243.7" cy="187.5" r="2.4" fill="#ee1010"/>
<path d="M295.5,173.3 L295.5,190.7" stroke="#555" stroke-width="0.8"/>
<path d="M294.3,173.3 L296.7,173.3 M294.3,190.7 L296.7,190.7" stroke="#555" stroke-width="0.8"/>
<circle cx="295.5" cy="181.3" r="2.1" fill="#fff" stroke="#ff4040" stroke-width="0.9"/>
<circle cx="295.5" cy="181.3" r="2.4" fill="#ee1010"/>
<path d="M316.8,178 L316.8,193" stroke="#555" stroke-width="0.8"/>
<path d="M315.6,178 L318.0,178 M315.6,193 L318.0,193" stroke="#555" stroke-width="0.8"/>
<circle cx="316.8" cy="184.5" r="2.1" fill="#fff" stroke="#ff4040" stroke-width="0.9"/>
<circle cx="316.8" cy="186.1" r="2.4" fill="#ee1010"/>
<path d="M328.5,171.2 L328.5,186.7" stroke="#555" stroke-width="0.8"/>
<path d="M327.3,171.2 L329.7,171.2 M327.3,186.7 L329.7,186.7" stroke="#555" stroke-width="0.8"/>
<circle cx="328.5" cy="178.7" r="2.1" fill="#fff" stroke="#ff4040" stroke-width="0.9"/>
<circle cx="328.5" cy="178.7" r="2.4" fill="#ee1010"/>
<path d="M343.2,172 L343.2,190" stroke="#555" stroke-width="0.8"/>
<path d="M342.0,172 L344.4,172 M342.0,190 L344.4,190" stroke="#555" stroke-width="0.8"/>
<circle cx="343.2" cy="180.8" r="2.1" fill="#fff" stroke="#ff4040" stroke-width="0.9"/>
<circle cx="343.2" cy="180.8" r="2.4" fill="#ee1010"/>
<path d="M230.9,206 L230.9,222" stroke="#3355ee" stroke-width="0.8"/>
<path d="M229.70000000000002,206 L232.1,206 M229.70000000000002,222 L232.1,222" stroke="#3355ee" stroke-width="0.8"/>
<circle cx="230.9" cy="212.5" r="2.1" fill="#fff" stroke="#3355ee" stroke-width="0.9"/>
<circle cx="230.9" cy="216" r="2.4" fill="#1030e0"/>
<path d="M246.3,204 L246.3,219" stroke="#3355ee" stroke-width="0.8"/>
<path d="M245.10000000000002,204 L247.5,204 M245.10000000000002,219 L247.5,219" stroke="#3355ee" stroke-width="0.8"/>
<circle cx="246.3" cy="209.9" r="2.1" fill="#fff" stroke="#3355ee" stroke-width="0.9"/>
<circle cx="246.3" cy="212.8" r="2.4" fill="#1030e0"/>
<path d="M262.3,203 L262.3,223" stroke="#3355ee" stroke-width="0.8"/>
<path d="M261.1,203 L263.5,203 M261.1,223 L263.5,223" stroke="#3355ee" stroke-width="0.8"/>
<circle cx="262.3" cy="209.9" r="2.1" fill="#fff" stroke="#3355ee" stroke-width="0.9"/>
<circle cx="262.3" cy="215.2" r="2.4" fill="#1030e0"/>
<path d="M276.2,194.7 L276.2,221.3" stroke="#3355ee" stroke-width="0.8"/>
<path d="M275.0,194.7 L277.4,194.7 M275.0,221.3 L277.4,221.3" stroke="#3355ee" stroke-width="0.8"/>
<circle cx="276.2" cy="202.1" r="2.1" fill="#fff" stroke="#3355ee" stroke-width="0.9"/>
<circle cx="276.2" cy="213.3" r="2.4" fill="#1030e0"/>
<path d="M288.8,196.8 L288.8,211.2" stroke="#3355ee" stroke-width="0.8"/>
<path d="M287.6,196.8 L290.0,196.8 M287.6,211.2 L290.0,211.2" stroke="#3355ee" stroke-width="0.8"/>
<circle cx="288.8" cy="201.3" r="2.1" fill="#fff" stroke="#3355ee" stroke-width="0.9"/>
<circle cx="288.8" cy="205.3" r="2.4" fill="#1030e0"/>
<path d="M309.3,192 L309.3,205" stroke="#3355ee" stroke-width="0.8"/>
<path d="M308.1,192 L310.5,192 M308.1,205 L310.5,205" stroke="#3355ee" stroke-width="0.8"/>
<circle cx="309.3" cy="196" r="2.1" fill="#fff" stroke="#3355ee" stroke-width="0.9"/>
<circle cx="309.3" cy="199.5" r="2.4" fill="#1030e0"/>
<path d="M327.5,184 L327.5,197" stroke="#3355ee" stroke-width="0.8"/>
<path d="M326.3,184 L328.7,184 M326.3,197 L328.7,197" stroke="#3355ee" stroke-width="0.8"/>
<circle cx="327.5" cy="188.5" r="2.1" fill="#fff" stroke="#3355ee" stroke-width="0.9"/>
<circle cx="327.5" cy="191.5" r="2.4" fill="#1030e0"/>
<path d="M343.5,182 L343.5,191" stroke="#3355ee" stroke-width="0.8"/>
<path d="M342.3,182 L344.7,182 M342.3,191 L344.7,191" stroke="#3355ee" stroke-width="0.8"/>
<circle cx="343.5" cy="185" r="2.1" fill="#fff" stroke="#3355ee" stroke-width="0.9"/>
<circle cx="343.5" cy="187.5" r="2.4" fill="#1030e0"/>
<path d="M410.3,273 L535,273 M410.3,273 L410.3,182.5" stroke="#444" stroke-width="1" fill="none"/>
<path d="M410.3,273.0 L407.7,273.0 M410.3,258.2 L408.8,258.2 M410.3,243.5 L407.7,243.5 M410.3,228.8 L408.8,228.8 M410.3,214.0 L407.7,214.0 M410.3,199.2 L408.8,199.2 M410.3,184.5 L407.7,184.5 M419.6,273 L419.6,275.2 M429.4,273 L429.4,274.3 M439.2,273 L439.2,274.3 M448.9,273 L448.9,275.2 M458.7,273 L458.7,274.3 M468.5,273 L468.5,274.3 M478.2,273 L478.2,275.2 M488.0,273 L488.0,274.3 M497.8,273 L497.8,274.3 M507.6,273 L507.6,275.2 M517.4,273 L517.4,274.3" stroke="#3a3a3a" stroke-width="0.8"/>
<text x="407" y="275.7" font-size="9.8" text-anchor="end" fill="#111">0.0</text>
<text x="407" y="246.2" font-size="9.8" text-anchor="end" fill="#111">0.1</text>
<text x="407" y="216.7" font-size="9.8" text-anchor="end" fill="#111">0.2</text>
<text x="407" y="187.2" font-size="9.8" text-anchor="end" fill="#111">0.3</text>
<text x="419.6" y="284" font-size="9.8" text-anchor="middle" fill="#111">0</text>
<text x="448.9" y="284" font-size="9.8" text-anchor="middle" fill="#111">150</text>
<text x="478.2" y="284" font-size="9.8" text-anchor="middle" fill="#111">300</text>
<text x="507.6" y="284" font-size="9.8" text-anchor="middle" fill="#111">450</text>
<text x="473" y="295.9" font-size="10.3" text-anchor="middle" fill="#1a1a1a">Template Position</text>
<text transform="translate(389.2,219.4) rotate(-90)" font-size="10" text-anchor="middle" fill="#111">seconds/10nt</text>
<path d="M522.5,160.5 L522.5,240.3" stroke="#555" stroke-width="1"/>
<path d="M522.5,224.4 L524.5,224.4" stroke="#555" stroke-width="0.8"/>
<text x="525.6" y="227.4" font-size="8.2" fill="#111">14</text>
<path d="M522.5,192.7 L524.5,192.7" stroke="#555" stroke-width="0.8"/>
<text x="525.6" y="195.7" font-size="8.2" fill="#111">16</text>
<path d="M522.5,161.0 L524.5,161.0" stroke="#555" stroke-width="0.8"/>
<text x="525.6" y="164.0" font-size="8.2" fill="#111">18</text>
<text transform="translate(545,194.4) rotate(-90)" font-size="9.8" text-anchor="middle" fill="#111">Tension (pN)</text>
<path d="M444.3,164 L444.3,273" stroke="#888" stroke-width="0.8" stroke-dasharray="1,1"/>
<path d="M463.2,164 L463.2,273" stroke="#888" stroke-width="0.8" stroke-dasharray="1,1"/>
<path d="M483.1,164 L483.1,273" stroke="#888" stroke-width="0.8" stroke-dasharray="1,1"/>
<path d="M503.5,164 L503.5,273" stroke="#888" stroke-width="0.8" stroke-dasharray="1,1"/>
<polyline points="424.2,234 426,229.4 427.8,226.6 428.8,227.5 430.6,223.9 432.4,217.4 433.3,216.5 435.2,220.2 437,223.9 438.9,222.9 439.8,219.3 441.6,214.7 442.5,210.1 443.4,213.8 444.4,217.4 446.2,222 448,221.1 449.9,222.9 451.7,217.4 453.5,222 455.3,220.8 457,218.3 458.7,215.8 460.3,206.7 462,198.3 463,192 463.7,203.3 464.5,210 466.2,218.3 467.8,220 469.5,220.8 471.2,221.7 472.8,223.3 473.7,225 475.3,221.7 477,215 479,205 481,190 483.8,170 485.5,190 487.2,210 489.7,218.3 492.2,225 493.8,221.7 494.7,223.3 497.2,216.7 499.7,208.3 501.5,190 503.5,165.8 505.5,190 507.7,205 508.3,214.7 510,218 511.9,220.2 513.8,219.3 515.6,225.7 517.4,222.9 519.3,217.4" fill="none" stroke="#6a6a6a" stroke-width="1.1"/>
<polyline points="421.4,239.4 422.3,243.1 424.2,247.7 425.1,249.5 426,245.9 427.8,237.6 428.8,239.4 429.7,245.9 431.5,239.4 433.3,242.2 434.3,246.8 436.1,250.5 437.9,240.4 438.9,235.8 439.8,244 440.7,245.9 441.6,238.5 442.5,229.4 443.4,227.5 444.4,223.9 445.3,227.5 446.2,233 448,243.1 449.9,246.8 451.7,244 453.7,240.8 455.3,245 457,236.7 458.7,235.8 459.5,241.7 460.3,245 461.2,234.2 462,227.5 462.8,225.8 463.7,231.7 464.5,238.3 465.3,243.3 467,242.5 468.7,250 470.3,247.5 472,240 473.7,245.8 475.3,249.2 477,237.5 478.7,230 479.7,235.8 481.3,226.7 483,220.8 484.7,213.3 485.5,215 486.3,223.3 488,238.3 489.7,236.7 491.3,241.7 492.2,249.2 493,246.7 494.7,244.2 496.3,240 498,233.3 499.7,230 501.3,218.3 502.7,188.3 504,195 505,211.7 506.3,220 508.3,236.7 510.1,245 511,251 513,244 514.7,238 516,244 518,240 520,246" fill="none" stroke="#3a4ae8" stroke-width="1.1"/>
<polyline points="421.4,234 422.3,233 423.3,236.7 424.2,241.3 426,243.1 427.8,242.2 429.7,244 431.5,243.1 433.3,245 435.2,244 437,245 438.9,243.1 440.7,244 442.5,242.2 443.4,235.8 444.4,234 445.3,242.2 447.1,244 449.9,243.1 451.7,245 453.7,245 455.3,244.2 457,245.8 458.7,245 460.3,244.2 461.2,238.3 462,230 462.8,221.7 463.3,220 464,230 464.5,240.8 465.3,244.2 467,243.3 468.7,245 470.3,244.2 472,245 473.7,242.5 475.3,245 477,244.2 478.7,245 480.5,245 481.3,240 483,221.7 483.3,208.3 484.7,238.3 485.5,244.2 488,245 489.7,244.2 491.3,245.8 493,245 494.7,245.8 496.3,244.2 498,245 499.7,244.2 501.3,245 502,238 503,215 503.5,198 504.5,208 505.5,225 507,238 508,245 510,243 512,246 514,242 516,245 518,243 520,246" fill="none" stroke="#f28a1a" stroke-width="1.5"/>
</svg></body></html>
